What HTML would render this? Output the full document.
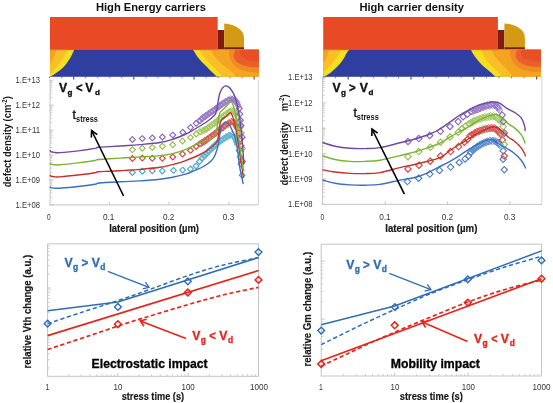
<!DOCTYPE html><html><head><meta charset="utf-8"><style>html,body{margin:0;padding:0;background:#fff;}svg{display:block;} text{font-family:"Liberation Sans", Arial, sans-serif;}</style></head><body>
<svg width="553" height="403" viewBox="0 0 553 403">
<rect width="553" height="403" fill="#fff"/>
<rect x="50" y="17.0" width="167.7" height="32.8" fill="#E84A26"/>
<rect x="217.7" y="30" width="6.5" height="19.799999999999997" fill="#7E1A0E"/>
<path d="M224.2,23.4 C234.2,24 244,29 244,38 L244,47.4 L224.2,47.4 Z" fill="#D49A14"/>
<rect x="224.2" y="47.2" width="19.80000000000001" height="2.5999999999999943" fill="#7E1A0E"/>
<rect x="50" y="49.8" width="208.8" height="27.0" fill="#2E3FA0"/>
<path d="M50,49.8 L74.2,49.8  C73.80,50.65 72.73,53.12 71.80,54.90 C70.87,56.68 69.92,58.52 68.60,60.50 C67.28,62.48 65.62,64.95 63.90,66.80 C62.18,68.65 60.15,70.20 58.30,71.60 C56.45,73.00 54.15,74.37 52.80,75.20 C51.45,76.03 50.63,76.37 50.20,76.60 L50,76.6 Z" fill="#F6DF1E"/>
<path d="M50,49.8 L67.4,49.8  C66.82,51.05 65.15,55.12 63.90,57.30 C62.65,59.48 61.37,61.05 59.90,62.90 C58.43,64.75 56.55,66.68 55.10,68.40 C53.65,70.12 52.05,72.27 51.20,73.20 C50.35,74.13 50.20,73.87 50.00,74.00 L50,74 Z" fill="#F8C026"/>
<path d="M50,49.8 L56.3,49.8  C55.97,50.92 55.10,54.55 54.30,56.50 C53.50,58.45 52.22,60.33 51.50,61.50 C50.78,62.67 50.25,63.17 50.00,63.50 L50,63.5 Z" fill="#F5A421"/>
<path d="M192.80,49.80 C193.13,50.25 194.05,51.37 194.80,52.50 C195.55,53.63 196.20,55.10 197.30,56.60 C198.40,58.10 200.03,60.00 201.40,61.50 C202.77,63.00 204.15,64.23 205.50,65.60 C206.85,66.97 208.15,68.40 209.50,69.70 C210.85,71.00 212.35,72.22 213.60,73.40 C214.85,74.58 216.43,76.23 217.00,76.80 L258.8,76.8 L258.8,49.8 Z" fill="#F6DF1E"/>
<path d="M199.30,49.80 C199.65,50.40 200.52,51.98 201.40,53.40 C202.28,54.82 203.25,56.67 204.60,58.30 C205.95,59.93 207.72,61.43 209.50,63.20 C211.28,64.97 213.52,67.13 215.30,68.90 C217.08,70.67 218.78,72.48 220.20,73.80 C221.62,75.12 223.20,76.30 223.80,76.80 L258.8,76.8 L258.8,49.8 Z" fill="#F8C026"/>
<path d="M211.20,49.80 C211.47,50.40 211.98,51.98 212.80,53.40 C213.62,54.82 214.73,56.67 216.10,58.30 C217.47,59.93 219.23,61.57 221.00,63.20 C222.77,64.83 224.87,66.63 226.70,68.10 C228.53,69.57 230.45,70.55 232.00,72.00 C233.55,73.45 235.33,76.00 236.00,76.80 L258.8,76.8 L258.8,49.8 Z" fill="#F5A421"/>
<path d="M229.40,49.80 C229.42,51.00 228.65,54.38 229.50,57.00 C230.35,59.62 231.92,63.17 234.50,65.50 C237.08,67.83 240.95,69.75 245.00,71.00 C249.05,72.25 256.50,72.67 258.80,73.00 L258.8,49.8 Z" fill="#F08A26"/>
<path d="M235.40,49.80 C235.12,50.95 233.27,54.53 233.70,56.70 C234.13,58.87 235.83,61.22 238.00,62.80 C240.17,64.38 243.23,65.37 246.70,66.20 C250.17,67.03 256.78,67.53 258.80,67.80 L258.8,49.8 Z" fill="#EA5E2A"/>
<path d="M240.50,49.80 C240.42,50.50 239.33,52.55 240.00,54.00 C240.67,55.45 242.67,57.37 244.50,58.50 C246.33,59.63 248.62,60.30 251.00,60.80 C253.38,61.30 257.50,61.38 258.80,61.50 L258.8,49.8 Z" fill="#E84E28"/>
<line x1="50" y1="49.8" x2="217.7" y2="49.8" stroke="#9a2a18" stroke-width="0.6" opacity="0.6"/>
<rect x="323.2" y="17.0" width="174.7" height="32.8" fill="#E84A26"/>
<rect x="497.9" y="30" width="6.5" height="19.799999999999997" fill="#7E1A0E"/>
<path d="M504.4,23.4 C514.4,24 524.9,29 524.9,38 L524.9,47.4 L504.4,47.4 Z" fill="#D49A14"/>
<rect x="504.4" y="47.2" width="20.5" height="2.5999999999999943" fill="#7E1A0E"/>
<rect x="323.2" y="49.8" width="217.59999999999997" height="27.0" fill="#2E3FA0"/>
<path d="M323.2,49.8 L349.2,49.8  C348.73,50.40 347.27,52.02 346.40,53.40 C345.53,54.78 345.07,56.38 344.00,58.10 C342.93,59.82 341.58,61.85 340.00,63.70 C338.42,65.55 336.35,67.48 334.50,69.20 C332.65,70.92 330.62,72.80 328.90,74.00 C327.18,75.20 325.15,75.93 324.20,76.40 C323.25,76.87 323.37,76.73 323.20,76.80 L323.2,76.8 Z" fill="#F6DF1E"/>
<path d="M323.2,49.8 L340.9,49.8  C340.50,50.67 339.57,53.22 338.50,55.00 C337.43,56.78 335.97,58.65 334.50,60.50 C333.03,62.35 331.28,64.38 329.70,66.10 C328.12,67.82 326.08,69.82 325.00,70.80 C323.92,71.78 323.50,71.80 323.20,72.00 L323.2,72 Z" fill="#F8C026"/>
<path d="M323.2,49.8 L329,49.8  C328.73,50.78 328.00,53.92 327.40,55.70 C326.80,57.48 326.10,59.28 325.40,60.50 C324.70,61.72 323.57,62.58 323.20,63.00 L323.2,63 Z" fill="#F5A421"/>
<path d="M470.80,49.80 C471.25,50.58 472.50,52.97 473.50,54.50 C474.50,56.03 475.47,57.33 476.80,59.00 C478.13,60.67 479.80,62.78 481.50,64.50 C483.20,66.22 485.33,67.88 487.00,69.30 C488.67,70.72 490.10,71.75 491.50,73.00 C492.90,74.25 494.75,76.17 495.40,76.80 L540.8,76.8 L540.8,49.8 Z" fill="#F6DF1E"/>
<path d="M480.90,49.80 C481.33,50.67 482.48,53.12 483.50,55.00 C484.52,56.88 485.58,59.18 487.00,61.10 C488.42,63.02 490.30,64.80 492.00,66.50 C493.70,68.20 495.62,69.58 497.20,71.30 C498.78,73.02 500.78,75.88 501.50,76.80 L540.8,76.8 L540.8,49.8 Z" fill="#F8C026"/>
<path d="M491.40,49.80 C491.75,50.50 492.48,52.38 493.50,54.00 C494.52,55.62 495.92,57.58 497.50,59.50 C499.08,61.42 501.17,63.58 503.00,65.50 C504.83,67.42 506.83,69.12 508.50,71.00 C510.17,72.88 512.25,75.83 513.00,76.80 L540.8,76.8 L540.8,49.8 Z" fill="#F5A421"/>
<path d="M510.00,49.80 C510.08,51.00 509.58,54.43 510.50,57.00 C511.42,59.57 513.32,63.08 515.50,65.20 C517.68,67.32 520.73,68.62 523.60,69.70 C526.47,70.78 529.83,71.32 532.70,71.70 C535.57,72.08 539.45,71.95 540.80,72.00 L540.8,49.8 Z" fill="#F08A26"/>
<path d="M517.30,49.80 C517.00,50.70 515.35,53.38 515.50,55.20 C515.65,57.02 516.70,59.12 518.20,60.70 C519.70,62.28 522.08,63.73 524.50,64.70 C526.92,65.67 529.98,66.08 532.70,66.50 C535.42,66.92 539.45,67.08 540.80,67.20 L540.8,49.8 Z" fill="#EA5E2A"/>
<path d="M522.00,49.80 C521.83,50.50 520.50,52.55 521.00,54.00 C521.50,55.45 523.17,57.33 525.00,58.50 C526.83,59.67 529.37,60.50 532.00,61.00 C534.63,61.50 539.33,61.42 540.80,61.50 L540.8,49.8 Z" fill="#E84E28"/>
<line x1="323.2" y1="49.8" x2="497.9" y2="49.8" stroke="#9a2a18" stroke-width="0.6" opacity="0.6"/>
<line x1="49.6" y1="76.6" x2="49.6" y2="78.2" stroke="#555" stroke-width="0.8"/>
<line x1="61.7" y1="76.6" x2="61.7" y2="78.2" stroke="#555" stroke-width="0.8"/>
<line x1="73.7" y1="76.6" x2="73.7" y2="79.5" stroke="#555" stroke-width="1.2"/>
<line x1="85.7" y1="76.6" x2="85.7" y2="78.2" stroke="#555" stroke-width="0.8"/>
<line x1="97.8" y1="76.6" x2="97.8" y2="78.2" stroke="#555" stroke-width="0.8"/>
<line x1="109.8" y1="76.6" x2="109.8" y2="78.2" stroke="#555" stroke-width="0.8"/>
<line x1="121.8" y1="76.6" x2="121.8" y2="78.2" stroke="#555" stroke-width="0.8"/>
<line x1="133.8" y1="76.6" x2="133.8" y2="79.5" stroke="#555" stroke-width="1.2"/>
<line x1="145.9" y1="76.6" x2="145.9" y2="78.2" stroke="#555" stroke-width="0.8"/>
<line x1="157.9" y1="76.6" x2="157.9" y2="78.2" stroke="#555" stroke-width="0.8"/>
<line x1="169.9" y1="76.6" x2="169.9" y2="78.2" stroke="#555" stroke-width="0.8"/>
<line x1="182.0" y1="76.6" x2="182.0" y2="78.2" stroke="#555" stroke-width="0.8"/>
<line x1="194.0" y1="76.6" x2="194.0" y2="79.5" stroke="#555" stroke-width="1.2"/>
<line x1="206.0" y1="76.6" x2="206.0" y2="78.2" stroke="#555" stroke-width="0.8"/>
<line x1="218.1" y1="76.6" x2="218.1" y2="78.2" stroke="#555" stroke-width="0.8"/>
<line x1="230.1" y1="76.6" x2="230.1" y2="78.2" stroke="#555" stroke-width="0.8"/>
<line x1="242.1" y1="76.6" x2="242.1" y2="78.2" stroke="#555" stroke-width="0.8"/>
<line x1="254.1" y1="76.6" x2="254.1" y2="79.5" stroke="#555" stroke-width="1.2"/>
<line x1="323.1" y1="76.6" x2="323.1" y2="78.2" stroke="#555" stroke-width="0.8"/>
<line x1="335.6" y1="76.6" x2="335.6" y2="78.2" stroke="#555" stroke-width="0.8"/>
<line x1="348.2" y1="76.6" x2="348.2" y2="79.5" stroke="#555" stroke-width="1.2"/>
<line x1="360.8" y1="76.6" x2="360.8" y2="78.2" stroke="#555" stroke-width="0.8"/>
<line x1="373.3" y1="76.6" x2="373.3" y2="78.2" stroke="#555" stroke-width="0.8"/>
<line x1="385.9" y1="76.6" x2="385.9" y2="78.2" stroke="#555" stroke-width="0.8"/>
<line x1="398.4" y1="76.6" x2="398.4" y2="78.2" stroke="#555" stroke-width="0.8"/>
<line x1="411.0" y1="76.6" x2="411.0" y2="79.5" stroke="#555" stroke-width="1.2"/>
<line x1="423.6" y1="76.6" x2="423.6" y2="78.2" stroke="#555" stroke-width="0.8"/>
<line x1="436.1" y1="76.6" x2="436.1" y2="78.2" stroke="#555" stroke-width="0.8"/>
<line x1="448.7" y1="76.6" x2="448.7" y2="78.2" stroke="#555" stroke-width="0.8"/>
<line x1="461.2" y1="76.6" x2="461.2" y2="78.2" stroke="#555" stroke-width="0.8"/>
<line x1="473.8" y1="76.6" x2="473.8" y2="79.5" stroke="#555" stroke-width="1.2"/>
<line x1="486.4" y1="76.6" x2="486.4" y2="78.2" stroke="#555" stroke-width="0.8"/>
<line x1="498.9" y1="76.6" x2="498.9" y2="78.2" stroke="#555" stroke-width="0.8"/>
<line x1="511.5" y1="76.6" x2="511.5" y2="78.2" stroke="#555" stroke-width="0.8"/>
<line x1="524.0" y1="76.6" x2="524.0" y2="78.2" stroke="#555" stroke-width="0.8"/>
<line x1="536.6" y1="76.6" x2="536.6" y2="79.5" stroke="#555" stroke-width="1.2"/>
<text x="95.9" y="11.0" font-size="11.5" font-weight="bold" fill="#111" text-anchor="start" textLength="110" lengthAdjust="spacingAndGlyphs" >High Energy carriers</text>
<text x="359.4" y="11.0" font-size="11.5" font-weight="bold" fill="#111" text-anchor="start" textLength="104.6" lengthAdjust="spacingAndGlyphs" >High carrier density</text>
<line x1="50.1" y1="80.2" x2="50.1" y2="204.9" stroke="#C4C4C4" stroke-width="1"/>
<line x1="50.1" y1="204.9" x2="258.4" y2="204.9" stroke="#C4C4C4" stroke-width="1"/>
<line x1="258.4" y1="80.2" x2="258.4" y2="204.9" stroke="#D4D4D4" stroke-width="1"/>
<line x1="50.1" y1="197.39" x2="52.300000000000004" y2="197.39" stroke="#C4C4C4" stroke-width="0.8"/>
<line x1="50.1" y1="193.00" x2="52.300000000000004" y2="193.00" stroke="#C4C4C4" stroke-width="0.8"/>
<line x1="50.1" y1="189.88" x2="52.300000000000004" y2="189.88" stroke="#C4C4C4" stroke-width="0.8"/>
<line x1="50.1" y1="187.47" x2="52.300000000000004" y2="187.47" stroke="#C4C4C4" stroke-width="0.8"/>
<line x1="50.1" y1="185.49" x2="52.300000000000004" y2="185.49" stroke="#C4C4C4" stroke-width="0.8"/>
<line x1="50.1" y1="183.82" x2="52.300000000000004" y2="183.82" stroke="#C4C4C4" stroke-width="0.8"/>
<line x1="50.1" y1="182.38" x2="52.300000000000004" y2="182.38" stroke="#C4C4C4" stroke-width="0.8"/>
<line x1="50.1" y1="181.10" x2="52.300000000000004" y2="181.10" stroke="#C4C4C4" stroke-width="0.8"/>
<line x1="50.1" y1="172.45" x2="52.300000000000004" y2="172.45" stroke="#C4C4C4" stroke-width="0.8"/>
<line x1="50.1" y1="168.06" x2="52.300000000000004" y2="168.06" stroke="#C4C4C4" stroke-width="0.8"/>
<line x1="50.1" y1="164.94" x2="52.300000000000004" y2="164.94" stroke="#C4C4C4" stroke-width="0.8"/>
<line x1="50.1" y1="162.53" x2="52.300000000000004" y2="162.53" stroke="#C4C4C4" stroke-width="0.8"/>
<line x1="50.1" y1="160.55" x2="52.300000000000004" y2="160.55" stroke="#C4C4C4" stroke-width="0.8"/>
<line x1="50.1" y1="158.88" x2="52.300000000000004" y2="158.88" stroke="#C4C4C4" stroke-width="0.8"/>
<line x1="50.1" y1="157.44" x2="52.300000000000004" y2="157.44" stroke="#C4C4C4" stroke-width="0.8"/>
<line x1="50.1" y1="156.16" x2="52.300000000000004" y2="156.16" stroke="#C4C4C4" stroke-width="0.8"/>
<line x1="50.1" y1="147.51" x2="52.300000000000004" y2="147.51" stroke="#C4C4C4" stroke-width="0.8"/>
<line x1="50.1" y1="143.12" x2="52.300000000000004" y2="143.12" stroke="#C4C4C4" stroke-width="0.8"/>
<line x1="50.1" y1="140.00" x2="52.300000000000004" y2="140.00" stroke="#C4C4C4" stroke-width="0.8"/>
<line x1="50.1" y1="137.59" x2="52.300000000000004" y2="137.59" stroke="#C4C4C4" stroke-width="0.8"/>
<line x1="50.1" y1="135.61" x2="52.300000000000004" y2="135.61" stroke="#C4C4C4" stroke-width="0.8"/>
<line x1="50.1" y1="133.94" x2="52.300000000000004" y2="133.94" stroke="#C4C4C4" stroke-width="0.8"/>
<line x1="50.1" y1="132.50" x2="52.300000000000004" y2="132.50" stroke="#C4C4C4" stroke-width="0.8"/>
<line x1="50.1" y1="131.22" x2="52.300000000000004" y2="131.22" stroke="#C4C4C4" stroke-width="0.8"/>
<line x1="50.1" y1="122.57" x2="52.300000000000004" y2="122.57" stroke="#C4C4C4" stroke-width="0.8"/>
<line x1="50.1" y1="118.18" x2="52.300000000000004" y2="118.18" stroke="#C4C4C4" stroke-width="0.8"/>
<line x1="50.1" y1="115.06" x2="52.300000000000004" y2="115.06" stroke="#C4C4C4" stroke-width="0.8"/>
<line x1="50.1" y1="112.65" x2="52.300000000000004" y2="112.65" stroke="#C4C4C4" stroke-width="0.8"/>
<line x1="50.1" y1="110.67" x2="52.300000000000004" y2="110.67" stroke="#C4C4C4" stroke-width="0.8"/>
<line x1="50.1" y1="109.00" x2="52.300000000000004" y2="109.00" stroke="#C4C4C4" stroke-width="0.8"/>
<line x1="50.1" y1="107.56" x2="52.300000000000004" y2="107.56" stroke="#C4C4C4" stroke-width="0.8"/>
<line x1="50.1" y1="106.28" x2="52.300000000000004" y2="106.28" stroke="#C4C4C4" stroke-width="0.8"/>
<line x1="50.1" y1="97.63" x2="52.300000000000004" y2="97.63" stroke="#C4C4C4" stroke-width="0.8"/>
<line x1="50.1" y1="93.24" x2="52.300000000000004" y2="93.24" stroke="#C4C4C4" stroke-width="0.8"/>
<line x1="50.1" y1="90.12" x2="52.300000000000004" y2="90.12" stroke="#C4C4C4" stroke-width="0.8"/>
<line x1="50.1" y1="87.71" x2="52.300000000000004" y2="87.71" stroke="#C4C4C4" stroke-width="0.8"/>
<line x1="50.1" y1="85.73" x2="52.300000000000004" y2="85.73" stroke="#C4C4C4" stroke-width="0.8"/>
<line x1="50.1" y1="84.06" x2="52.300000000000004" y2="84.06" stroke="#C4C4C4" stroke-width="0.8"/>
<line x1="50.1" y1="82.62" x2="52.300000000000004" y2="82.62" stroke="#C4C4C4" stroke-width="0.8"/>
<line x1="50.1" y1="81.34" x2="52.300000000000004" y2="81.34" stroke="#C4C4C4" stroke-width="0.8"/>
<line x1="49.1" y1="204.90" x2="53.6" y2="204.90" stroke="#C4C4C4" stroke-width="1"/>
<line x1="49.1" y1="179.96" x2="53.6" y2="179.96" stroke="#C4C4C4" stroke-width="1"/>
<line x1="49.1" y1="155.02" x2="53.6" y2="155.02" stroke="#C4C4C4" stroke-width="1"/>
<line x1="49.1" y1="130.08" x2="53.6" y2="130.08" stroke="#C4C4C4" stroke-width="1"/>
<line x1="49.1" y1="105.14" x2="53.6" y2="105.14" stroke="#C4C4C4" stroke-width="1"/>
<line x1="49.1" y1="80.20" x2="53.6" y2="80.20" stroke="#C4C4C4" stroke-width="1"/>
<line x1="109.3" y1="204.9" x2="109.3" y2="201.9" stroke="#C4C4C4" stroke-width="1"/>
<line x1="168.9" y1="204.9" x2="168.9" y2="201.9" stroke="#C4C4C4" stroke-width="1"/>
<line x1="229.0" y1="204.9" x2="229.0" y2="201.9" stroke="#C4C4C4" stroke-width="1"/>
<text x="40.0" y="82.9" font-size="9.2" font-weight="normal" fill="#333" text-anchor="end" textLength="24.4" lengthAdjust="spacingAndGlyphs" >1.E+13</text>
<text x="40.0" y="107.9" font-size="9.2" font-weight="normal" fill="#333" text-anchor="end" textLength="24.4" lengthAdjust="spacingAndGlyphs" >1.E+12</text>
<text x="40.0" y="133.2" font-size="9.2" font-weight="normal" fill="#333" text-anchor="end" textLength="24.4" lengthAdjust="spacingAndGlyphs" >1.E+11</text>
<text x="40.0" y="157.9" font-size="9.2" font-weight="normal" fill="#333" text-anchor="end" textLength="24.4" lengthAdjust="spacingAndGlyphs" >1.E+10</text>
<text x="40.0" y="182.7" font-size="9.2" font-weight="normal" fill="#333" text-anchor="end" textLength="24.4" lengthAdjust="spacingAndGlyphs" >1.E+09</text>
<text x="40.0" y="208.1" font-size="9.2" font-weight="normal" fill="#333" text-anchor="end" textLength="24.4" lengthAdjust="spacingAndGlyphs" >1.E+08</text>
<text x="48.9" y="219.9" font-size="8.6" font-weight="normal" fill="#333" text-anchor="middle" textLength="3.6" lengthAdjust="spacingAndGlyphs" >0</text>
<text x="108.7" y="219.9" font-size="8.6" font-weight="normal" fill="#333" text-anchor="middle" textLength="11.5" lengthAdjust="spacingAndGlyphs" >0.1</text>
<text x="168.7" y="219.9" font-size="8.6" font-weight="normal" fill="#333" text-anchor="middle" textLength="11.5" lengthAdjust="spacingAndGlyphs" >0.2</text>
<text x="228.6" y="219.9" font-size="8.6" font-weight="normal" fill="#333" text-anchor="middle" textLength="11.5" lengthAdjust="spacingAndGlyphs" >0.3</text>
<text x="109.2" y="232.2" font-size="10.2" font-weight="bold" fill="#1a1a1a" text-anchor="start" textLength="89.8" lengthAdjust="spacingAndGlyphs" stroke="#1a1a1a" stroke-width="0.2">lateral position (µm)</text>
<text transform="translate(10.6,187.2) rotate(-90)" font-size="10.2" font-weight="bold" fill="#1a1a1a" textLength="91" lengthAdjust="spacingAndGlyphs">defect density (cm<tspan font-size="6.5" dy="-4">-2</tspan><tspan dy="4">)</tspan></text>
<line x1="322.6" y1="77.5" x2="322.6" y2="204.4" stroke="#C4C4C4" stroke-width="1"/>
<line x1="322.6" y1="204.4" x2="541.8" y2="204.4" stroke="#C4C4C4" stroke-width="1"/>
<line x1="541.8" y1="77.5" x2="541.8" y2="204.4" stroke="#D4D4D4" stroke-width="1"/>
<line x1="322.6" y1="196.76" x2="324.8" y2="196.76" stroke="#C4C4C4" stroke-width="0.8"/>
<line x1="322.6" y1="192.29" x2="324.8" y2="192.29" stroke="#C4C4C4" stroke-width="0.8"/>
<line x1="322.6" y1="189.12" x2="324.8" y2="189.12" stroke="#C4C4C4" stroke-width="0.8"/>
<line x1="322.6" y1="186.66" x2="324.8" y2="186.66" stroke="#C4C4C4" stroke-width="0.8"/>
<line x1="322.6" y1="184.65" x2="324.8" y2="184.65" stroke="#C4C4C4" stroke-width="0.8"/>
<line x1="322.6" y1="182.95" x2="324.8" y2="182.95" stroke="#C4C4C4" stroke-width="0.8"/>
<line x1="322.6" y1="181.48" x2="324.8" y2="181.48" stroke="#C4C4C4" stroke-width="0.8"/>
<line x1="322.6" y1="180.18" x2="324.8" y2="180.18" stroke="#C4C4C4" stroke-width="0.8"/>
<line x1="322.6" y1="171.38" x2="324.8" y2="171.38" stroke="#C4C4C4" stroke-width="0.8"/>
<line x1="322.6" y1="166.91" x2="324.8" y2="166.91" stroke="#C4C4C4" stroke-width="0.8"/>
<line x1="322.6" y1="163.74" x2="324.8" y2="163.74" stroke="#C4C4C4" stroke-width="0.8"/>
<line x1="322.6" y1="161.28" x2="324.8" y2="161.28" stroke="#C4C4C4" stroke-width="0.8"/>
<line x1="322.6" y1="159.27" x2="324.8" y2="159.27" stroke="#C4C4C4" stroke-width="0.8"/>
<line x1="322.6" y1="157.57" x2="324.8" y2="157.57" stroke="#C4C4C4" stroke-width="0.8"/>
<line x1="322.6" y1="156.10" x2="324.8" y2="156.10" stroke="#C4C4C4" stroke-width="0.8"/>
<line x1="322.6" y1="154.80" x2="324.8" y2="154.80" stroke="#C4C4C4" stroke-width="0.8"/>
<line x1="322.6" y1="146.00" x2="324.8" y2="146.00" stroke="#C4C4C4" stroke-width="0.8"/>
<line x1="322.6" y1="141.53" x2="324.8" y2="141.53" stroke="#C4C4C4" stroke-width="0.8"/>
<line x1="322.6" y1="138.36" x2="324.8" y2="138.36" stroke="#C4C4C4" stroke-width="0.8"/>
<line x1="322.6" y1="135.90" x2="324.8" y2="135.90" stroke="#C4C4C4" stroke-width="0.8"/>
<line x1="322.6" y1="133.89" x2="324.8" y2="133.89" stroke="#C4C4C4" stroke-width="0.8"/>
<line x1="322.6" y1="132.19" x2="324.8" y2="132.19" stroke="#C4C4C4" stroke-width="0.8"/>
<line x1="322.6" y1="130.72" x2="324.8" y2="130.72" stroke="#C4C4C4" stroke-width="0.8"/>
<line x1="322.6" y1="129.42" x2="324.8" y2="129.42" stroke="#C4C4C4" stroke-width="0.8"/>
<line x1="322.6" y1="120.62" x2="324.8" y2="120.62" stroke="#C4C4C4" stroke-width="0.8"/>
<line x1="322.6" y1="116.15" x2="324.8" y2="116.15" stroke="#C4C4C4" stroke-width="0.8"/>
<line x1="322.6" y1="112.98" x2="324.8" y2="112.98" stroke="#C4C4C4" stroke-width="0.8"/>
<line x1="322.6" y1="110.52" x2="324.8" y2="110.52" stroke="#C4C4C4" stroke-width="0.8"/>
<line x1="322.6" y1="108.51" x2="324.8" y2="108.51" stroke="#C4C4C4" stroke-width="0.8"/>
<line x1="322.6" y1="106.81" x2="324.8" y2="106.81" stroke="#C4C4C4" stroke-width="0.8"/>
<line x1="322.6" y1="105.34" x2="324.8" y2="105.34" stroke="#C4C4C4" stroke-width="0.8"/>
<line x1="322.6" y1="104.04" x2="324.8" y2="104.04" stroke="#C4C4C4" stroke-width="0.8"/>
<line x1="322.6" y1="95.24" x2="324.8" y2="95.24" stroke="#C4C4C4" stroke-width="0.8"/>
<line x1="322.6" y1="90.77" x2="324.8" y2="90.77" stroke="#C4C4C4" stroke-width="0.8"/>
<line x1="322.6" y1="87.60" x2="324.8" y2="87.60" stroke="#C4C4C4" stroke-width="0.8"/>
<line x1="322.6" y1="85.14" x2="324.8" y2="85.14" stroke="#C4C4C4" stroke-width="0.8"/>
<line x1="322.6" y1="83.13" x2="324.8" y2="83.13" stroke="#C4C4C4" stroke-width="0.8"/>
<line x1="322.6" y1="81.43" x2="324.8" y2="81.43" stroke="#C4C4C4" stroke-width="0.8"/>
<line x1="322.6" y1="79.96" x2="324.8" y2="79.96" stroke="#C4C4C4" stroke-width="0.8"/>
<line x1="322.6" y1="78.66" x2="324.8" y2="78.66" stroke="#C4C4C4" stroke-width="0.8"/>
<line x1="321.6" y1="204.40" x2="326.1" y2="204.40" stroke="#C4C4C4" stroke-width="1"/>
<line x1="321.6" y1="179.02" x2="326.1" y2="179.02" stroke="#C4C4C4" stroke-width="1"/>
<line x1="321.6" y1="153.64" x2="326.1" y2="153.64" stroke="#C4C4C4" stroke-width="1"/>
<line x1="321.6" y1="128.26" x2="326.1" y2="128.26" stroke="#C4C4C4" stroke-width="1"/>
<line x1="321.6" y1="102.88" x2="326.1" y2="102.88" stroke="#C4C4C4" stroke-width="1"/>
<line x1="321.6" y1="77.50" x2="326.1" y2="77.50" stroke="#C4C4C4" stroke-width="1"/>
<line x1="385.3" y1="204.4" x2="385.3" y2="201.4" stroke="#C4C4C4" stroke-width="1"/>
<line x1="447.6" y1="204.4" x2="447.6" y2="201.4" stroke="#C4C4C4" stroke-width="1"/>
<line x1="509.9" y1="204.4" x2="509.9" y2="201.4" stroke="#C4C4C4" stroke-width="1"/>
<text x="312.5" y="80.3" font-size="9.2" font-weight="normal" fill="#333" text-anchor="end" textLength="24.4" lengthAdjust="spacingAndGlyphs" >1.E+13</text>
<text x="312.5" y="105.9" font-size="9.2" font-weight="normal" fill="#333" text-anchor="end" textLength="24.4" lengthAdjust="spacingAndGlyphs" >1.E+12</text>
<text x="312.5" y="131.5" font-size="9.2" font-weight="normal" fill="#333" text-anchor="end" textLength="24.4" lengthAdjust="spacingAndGlyphs" >1.E+11</text>
<text x="312.5" y="156.9" font-size="9.2" font-weight="normal" fill="#333" text-anchor="end" textLength="24.4" lengthAdjust="spacingAndGlyphs" >1.E+10</text>
<text x="312.5" y="181.7" font-size="9.2" font-weight="normal" fill="#333" text-anchor="end" textLength="24.4" lengthAdjust="spacingAndGlyphs" >1.E+09</text>
<text x="312.5" y="206.9" font-size="9.2" font-weight="normal" fill="#333" text-anchor="end" textLength="24.4" lengthAdjust="spacingAndGlyphs" >1.E+08</text>
<text x="322.4" y="219.8" font-size="8.6" font-weight="normal" fill="#333" text-anchor="middle" textLength="3.6" lengthAdjust="spacingAndGlyphs" >0</text>
<text x="384.9" y="219.8" font-size="8.6" font-weight="normal" fill="#333" text-anchor="middle" textLength="11.5" lengthAdjust="spacingAndGlyphs" >0.1</text>
<text x="447.4" y="219.8" font-size="8.6" font-weight="normal" fill="#333" text-anchor="middle" textLength="11.5" lengthAdjust="spacingAndGlyphs" >0.2</text>
<text x="509.7" y="219.8" font-size="8.6" font-weight="normal" fill="#333" text-anchor="middle" textLength="11.5" lengthAdjust="spacingAndGlyphs" >0.3</text>
<text transform="translate(288.0,185.4) rotate(-90)" font-size="10.2" font-weight="bold" fill="#1a1a1a" textLength="91" lengthAdjust="spacingAndGlyphs">defect density (cm<tspan font-size="6.5" dy="-4">-2</tspan><tspan dy="4">)</tspan></text>
<rect x="279" y="111.6" width="11" height="8.8" fill="#fff"/>
<text x="385.3" y="232.2" font-size="10.2" font-weight="bold" fill="#1a1a1a" text-anchor="start" textLength="92.1" lengthAdjust="spacingAndGlyphs" stroke="#1a1a1a" stroke-width="0.2">lateral position (µm)</text>
<path d="M201.50,155.20 L204.30,158.00 L201.50,160.80 L198.70,158.00 Z" fill="none" stroke="#5DB3D0" stroke-width="0.95"/>
<path d="M202.19,155.28 L204.99,158.08 L202.19,160.88 L199.39,158.08 Z" fill="none" stroke="#5DB3D0" stroke-width="0.95"/>
<path d="M202.89,155.36 L205.69,158.16 L202.89,160.96 L200.09,158.16 Z" fill="none" stroke="#5DB3D0" stroke-width="0.95"/>
<path d="M203.58,153.04 L206.38,155.84 L203.58,158.64 L200.78,155.84 Z" fill="none" stroke="#5DB3D0" stroke-width="0.95"/>
<path d="M204.27,153.12 L207.07,155.92 L204.27,158.72 L201.47,155.92 Z" fill="none" stroke="#5DB3D0" stroke-width="0.95"/>
<path d="M204.97,153.20 L207.77,156.00 L204.97,158.80 L202.17,156.00 Z" fill="none" stroke="#5DB3D0" stroke-width="0.95"/>
<path d="M205.66,150.88 L208.46,153.68 L205.66,156.48 L202.86,153.68 Z" fill="none" stroke="#5DB3D0" stroke-width="0.95"/>
<path d="M206.35,150.96 L209.15,153.76 L206.35,156.56 L203.55,153.76 Z" fill="none" stroke="#5DB3D0" stroke-width="0.95"/>
<path d="M207.05,151.03 L209.85,153.83 L207.05,156.63 L204.25,153.83 Z" fill="none" stroke="#5DB3D0" stroke-width="0.95"/>
<path d="M207.74,148.71 L210.54,151.51 L207.74,154.31 L204.94,151.51 Z" fill="none" stroke="#5DB3D0" stroke-width="0.95"/>
<path d="M208.43,148.79 L211.23,151.59 L208.43,154.39 L205.63,151.59 Z" fill="none" stroke="#5DB3D0" stroke-width="0.95"/>
<path d="M209.13,148.87 L211.93,151.67 L209.13,154.47 L206.33,151.67 Z" fill="none" stroke="#5DB3D0" stroke-width="0.95"/>
<path d="M209.85,146.58 L212.65,149.38 L209.85,152.18 L207.05,149.38 Z" fill="none" stroke="#5DB3D0" stroke-width="0.95"/>
<path d="M210.57,146.69 L213.37,149.49 L210.57,152.29 L207.77,149.49 Z" fill="none" stroke="#5DB3D0" stroke-width="0.95"/>
<path d="M211.29,146.79 L214.09,149.59 L211.29,152.39 L208.49,149.59 Z" fill="none" stroke="#5DB3D0" stroke-width="0.95"/>
<path d="M212.01,144.50 L214.81,147.30 L212.01,150.10 L209.21,147.30 Z" fill="none" stroke="#5DB3D0" stroke-width="0.95"/>
<path d="M212.73,144.60 L215.53,147.40 L212.73,150.20 L209.93,147.40 Z" fill="none" stroke="#5DB3D0" stroke-width="0.95"/>
<path d="M213.45,144.71 L216.25,147.51 L213.45,150.31 L210.65,147.51 Z" fill="none" stroke="#5DB3D0" stroke-width="0.95"/>
<path d="M214.17,142.42 L216.97,145.22 L214.17,148.02 L211.37,145.22 Z" fill="none" stroke="#5DB3D0" stroke-width="0.95"/>
<path d="M214.89,142.52 L217.69,145.32 L214.89,148.12 L212.09,145.32 Z" fill="none" stroke="#5DB3D0" stroke-width="0.95"/>
<path d="M215.61,142.63 L218.41,145.43 L215.61,148.23 L212.81,145.43 Z" fill="none" stroke="#5DB3D0" stroke-width="0.95"/>
<path d="M216.33,140.34 L219.13,143.14 L216.33,145.94 L213.53,143.14 Z" fill="none" stroke="#5DB3D0" stroke-width="0.95"/>
<path d="M217.05,140.44 L219.85,143.24 L217.05,146.04 L214.25,143.24 Z" fill="none" stroke="#5DB3D0" stroke-width="0.95"/>
<path d="M217.84,140.64 L220.64,143.44 L217.84,146.24 L215.04,143.44 Z" fill="none" stroke="#5DB3D0" stroke-width="0.95"/>
<path d="M218.67,138.48 L221.47,141.28 L218.67,144.08 L215.87,141.28 Z" fill="none" stroke="#5DB3D0" stroke-width="0.95"/>
<path d="M219.50,138.72 L222.30,141.52 L219.50,144.32 L216.70,141.52 Z" fill="none" stroke="#5DB3D0" stroke-width="0.95"/>
<path d="M220.33,138.97 L223.13,141.77 L220.33,144.57 L217.53,141.77 Z" fill="none" stroke="#5DB3D0" stroke-width="0.95"/>
<path d="M221.16,136.81 L223.96,139.61 L221.16,142.41 L218.36,139.61 Z" fill="none" stroke="#5DB3D0" stroke-width="0.95"/>
<path d="M221.99,137.05 L224.79,139.85 L221.99,142.65 L219.19,139.85 Z" fill="none" stroke="#5DB3D0" stroke-width="0.95"/>
<path d="M222.82,137.29 L225.62,140.09 L222.82,142.89 L220.02,140.09 Z" fill="none" stroke="#5DB3D0" stroke-width="0.95"/>
<path d="M223.65,135.14 L226.45,137.94 L223.65,140.74 L220.85,137.94 Z" fill="none" stroke="#5DB3D0" stroke-width="0.95"/>
<path d="M224.48,135.38 L227.28,138.18 L224.48,140.98 L221.68,138.18 Z" fill="none" stroke="#5DB3D0" stroke-width="0.95"/>
<path d="M225.32,135.62 L228.12,138.42 L225.32,141.22 L222.52,138.42 Z" fill="none" stroke="#5DB3D0" stroke-width="0.95"/>
<path d="M226.19,133.54 L228.99,136.34 L226.19,139.14 L223.39,136.34 Z" fill="none" stroke="#5DB3D0" stroke-width="0.95"/>
<path d="M227.08,133.88 L229.88,136.68 L227.08,139.48 L224.28,136.68 Z" fill="none" stroke="#5DB3D0" stroke-width="0.95"/>
<path d="M227.97,134.22 L230.77,137.02 L227.97,139.82 L225.17,137.02 Z" fill="none" stroke="#5DB3D0" stroke-width="0.95"/>
<path d="M228.85,132.16 L231.65,134.96 L228.85,137.76 L226.05,134.96 Z" fill="none" stroke="#5DB3D0" stroke-width="0.95"/>
<path d="M229.74,132.50 L232.54,135.30 L229.74,138.10 L226.94,135.30 Z" fill="none" stroke="#5DB3D0" stroke-width="0.95"/>
<path d="M230.63,132.84 L233.43,135.64 L230.63,138.44 L227.83,135.64 Z" fill="none" stroke="#5DB3D0" stroke-width="0.95"/>
<path d="M231.54,131.38 L234.34,134.18 L231.54,136.98 L228.74,134.18 Z" fill="none" stroke="#5DB3D0" stroke-width="0.95"/>
<path d="M232.45,132.59 L235.25,135.39 L232.45,138.19 L229.65,135.39 Z" fill="none" stroke="#5DB3D0" stroke-width="0.95"/>
<path d="M233.36,133.79 L236.16,136.59 L233.36,139.39 L230.56,136.59 Z" fill="none" stroke="#5DB3D0" stroke-width="0.95"/>
<path d="M233.95,132.95 L236.75,135.75 L233.95,138.55 L231.15,135.75 Z" fill="none" stroke="#5DB3D0" stroke-width="0.95"/>
<path d="M234.42,134.63 L237.22,137.43 L234.42,140.23 L231.62,137.43 Z" fill="none" stroke="#5DB3D0" stroke-width="0.95"/>
<path d="M234.90,136.31 L237.70,139.11 L234.90,141.91 L232.10,139.11 Z" fill="none" stroke="#5DB3D0" stroke-width="0.95"/>
<path d="M235.37,135.60 L238.17,138.40 L235.37,141.20 L232.57,138.40 Z" fill="none" stroke="#5DB3D0" stroke-width="0.95"/>
<path d="M235.83,137.28 L238.63,140.08 L235.83,142.88 L233.03,140.08 Z" fill="none" stroke="#5DB3D0" stroke-width="0.95"/>
<path d="M236.16,139.03 L238.96,141.83 L236.16,144.63 L233.36,141.83 Z" fill="none" stroke="#5DB3D0" stroke-width="0.95"/>
<path d="M236.48,138.37 L239.28,141.17 L236.48,143.97 L233.68,141.17 Z" fill="none" stroke="#5DB3D0" stroke-width="0.95"/>
<path d="M236.81,140.12 L239.61,142.92 L236.81,145.72 L234.01,142.92 Z" fill="none" stroke="#5DB3D0" stroke-width="0.95"/>
<path d="M237.13,141.86 L239.93,144.66 L237.13,147.46 L234.33,144.66 Z" fill="none" stroke="#5DB3D0" stroke-width="0.95"/>
<path d="M237.46,141.21 L240.26,144.01 L237.46,146.81 L234.66,144.01 Z" fill="none" stroke="#5DB3D0" stroke-width="0.95"/>
<path d="M132.40,169.60 L135.30,172.50 L132.40,175.40 L129.50,172.50 Z" fill="none" stroke="#4CA6C9" stroke-width="1.15"/>
<path d="M142.30,168.30 L145.20,171.20 L142.30,174.10 L139.40,171.20 Z" fill="none" stroke="#4CA6C9" stroke-width="1.15"/>
<path d="M152.30,167.90 L155.20,170.80 L152.30,173.70 L149.40,170.80 Z" fill="none" stroke="#4CA6C9" stroke-width="1.15"/>
<path d="M162.30,168.10 L165.20,171.00 L162.30,173.90 L159.40,171.00 Z" fill="none" stroke="#4CA6C9" stroke-width="1.15"/>
<path d="M173.50,167.50 L176.40,170.40 L173.50,173.30 L170.60,170.40 Z" fill="none" stroke="#4CA6C9" stroke-width="1.15"/>
<path d="M182.70,167.20 L185.60,170.10 L182.70,173.00 L179.80,170.10 Z" fill="none" stroke="#4CA6C9" stroke-width="1.15"/>
<path d="M190.50,166.00 L193.40,168.90 L190.50,171.80 L187.60,168.90 Z" fill="none" stroke="#4CA6C9" stroke-width="1.15"/>
<path d="M196.00,163.10 L198.90,166.00 L196.00,168.90 L193.10,166.00 Z" fill="none" stroke="#4CA6C9" stroke-width="1.15"/>
<path d="M199.50,158.60 L202.40,161.50 L199.50,164.40 L196.60,161.50 Z" fill="none" stroke="#4CA6C9" stroke-width="1.15"/>
<path d="M239.00,147.60 L241.90,150.50 L239.00,153.40 L236.10,150.50 Z" fill="none" stroke="#4CA6C9" stroke-width="1.15"/>
<path d="M240.20,154.10 L243.10,157.00 L240.20,159.90 L237.30,157.00 Z" fill="none" stroke="#4CA6C9" stroke-width="1.15"/>
<path d="M241.00,161.10 L243.90,164.00 L241.00,166.90 L238.10,164.00 Z" fill="none" stroke="#4CA6C9" stroke-width="1.15"/>
<path d="M242.10,172.40 L245.00,175.30 L242.10,178.20 L239.20,175.30 Z" fill="none" stroke="#4CA6C9" stroke-width="1.15"/>
<path d="M199.50,140.70 L202.30,143.50 L199.50,146.30 L196.70,143.50 Z" fill="none" stroke="#D85550" stroke-width="0.95"/>
<path d="M200.35,140.97 L203.15,143.77 L200.35,146.57 L197.55,143.77 Z" fill="none" stroke="#D85550" stroke-width="0.95"/>
<path d="M201.20,141.24 L204.00,144.04 L201.20,146.84 L198.40,144.04 Z" fill="none" stroke="#D85550" stroke-width="0.95"/>
<path d="M202.05,139.11 L204.85,141.91 L202.05,144.71 L199.25,141.91 Z" fill="none" stroke="#D85550" stroke-width="0.95"/>
<path d="M202.89,139.38 L205.69,142.18 L202.89,144.98 L200.09,142.18 Z" fill="none" stroke="#D85550" stroke-width="0.95"/>
<path d="M203.74,139.66 L206.54,142.46 L203.74,145.26 L200.94,142.46 Z" fill="none" stroke="#D85550" stroke-width="0.95"/>
<path d="M204.59,137.53 L207.39,140.33 L204.59,143.13 L201.79,140.33 Z" fill="none" stroke="#D85550" stroke-width="0.95"/>
<path d="M205.44,137.80 L208.24,140.60 L205.44,143.40 L202.64,140.60 Z" fill="none" stroke="#D85550" stroke-width="0.95"/>
<path d="M206.29,138.07 L209.09,140.87 L206.29,143.67 L203.49,140.87 Z" fill="none" stroke="#D85550" stroke-width="0.95"/>
<path d="M207.10,135.88 L209.90,138.68 L207.10,141.48 L204.30,138.68 Z" fill="none" stroke="#D85550" stroke-width="0.95"/>
<path d="M207.89,136.08 L210.69,138.88 L207.89,141.68 L205.09,138.88 Z" fill="none" stroke="#D85550" stroke-width="0.95"/>
<path d="M208.69,136.27 L211.49,139.07 L208.69,141.87 L205.89,139.07 Z" fill="none" stroke="#D85550" stroke-width="0.95"/>
<path d="M209.49,134.07 L212.29,136.87 L209.49,139.67 L206.69,136.87 Z" fill="none" stroke="#D85550" stroke-width="0.95"/>
<path d="M210.29,134.27 L213.09,137.07 L210.29,139.87 L207.49,137.07 Z" fill="none" stroke="#D85550" stroke-width="0.95"/>
<path d="M211.09,134.47 L213.89,137.27 L211.09,140.07 L208.29,137.27 Z" fill="none" stroke="#D85550" stroke-width="0.95"/>
<path d="M211.89,132.27 L214.69,135.07 L211.89,137.87 L209.09,135.07 Z" fill="none" stroke="#D85550" stroke-width="0.95"/>
<path d="M212.69,132.47 L215.49,135.27 L212.69,138.07 L209.89,135.27 Z" fill="none" stroke="#D85550" stroke-width="0.95"/>
<path d="M213.49,132.67 L216.29,135.47 L213.49,138.27 L210.69,135.47 Z" fill="none" stroke="#D85550" stroke-width="0.95"/>
<path d="M214.29,130.47 L217.09,133.27 L214.29,136.07 L211.49,133.27 Z" fill="none" stroke="#D85550" stroke-width="0.95"/>
<path d="M215.09,130.67 L217.89,133.47 L215.09,136.27 L212.29,133.47 Z" fill="none" stroke="#D85550" stroke-width="0.95"/>
<path d="M215.89,130.86 L218.69,133.66 L215.89,136.46 L213.09,133.66 Z" fill="none" stroke="#D85550" stroke-width="0.95"/>
<path d="M216.68,128.66 L219.48,131.46 L216.68,134.26 L213.88,131.46 Z" fill="none" stroke="#D85550" stroke-width="0.95"/>
<path d="M217.48,128.86 L220.28,131.66 L217.48,134.46 L214.68,131.66 Z" fill="none" stroke="#D85550" stroke-width="0.95"/>
<path d="M218.26,129.04 L221.06,131.84 L218.26,134.64 L215.46,131.84 Z" fill="none" stroke="#D85550" stroke-width="0.95"/>
<path d="M219.05,126.81 L221.85,129.61 L219.05,132.41 L216.25,129.61 Z" fill="none" stroke="#D85550" stroke-width="0.95"/>
<path d="M219.83,126.99 L222.63,129.79 L219.83,132.59 L217.03,129.79 Z" fill="none" stroke="#D85550" stroke-width="0.95"/>
<path d="M220.61,127.17 L223.41,129.97 L220.61,132.77 L217.81,129.97 Z" fill="none" stroke="#D85550" stroke-width="0.95"/>
<path d="M221.40,124.95 L224.20,127.75 L221.40,130.55 L218.60,127.75 Z" fill="none" stroke="#D85550" stroke-width="0.95"/>
<path d="M222.18,125.13 L224.98,127.93 L222.18,130.73 L219.38,127.93 Z" fill="none" stroke="#D85550" stroke-width="0.95"/>
<path d="M222.97,125.31 L225.77,128.11 L222.97,130.91 L220.17,128.11 Z" fill="none" stroke="#D85550" stroke-width="0.95"/>
<path d="M223.75,123.09 L226.55,125.89 L223.75,128.69 L220.95,125.89 Z" fill="none" stroke="#D85550" stroke-width="0.95"/>
<path d="M224.53,123.27 L227.33,126.07 L224.53,128.87 L221.73,126.07 Z" fill="none" stroke="#D85550" stroke-width="0.95"/>
<path d="M225.32,123.45 L228.12,126.25 L225.32,129.05 L222.52,126.25 Z" fill="none" stroke="#D85550" stroke-width="0.95"/>
<path d="M226.14,121.28 L228.94,124.08 L226.14,126.88 L223.34,124.08 Z" fill="none" stroke="#D85550" stroke-width="0.95"/>
<path d="M226.98,121.54 L229.78,124.34 L226.98,127.14 L224.18,124.34 Z" fill="none" stroke="#D85550" stroke-width="0.95"/>
<path d="M227.82,121.80 L230.62,124.60 L227.82,127.40 L225.02,124.60 Z" fill="none" stroke="#D85550" stroke-width="0.95"/>
<path d="M228.66,119.65 L231.46,122.45 L228.66,125.25 L225.86,122.45 Z" fill="none" stroke="#D85550" stroke-width="0.95"/>
<path d="M229.50,119.91 L232.30,122.71 L229.50,125.51 L226.70,122.71 Z" fill="none" stroke="#D85550" stroke-width="0.95"/>
<path d="M230.34,120.16 L233.14,122.96 L230.34,125.76 L227.54,122.96 Z" fill="none" stroke="#D85550" stroke-width="0.95"/>
<path d="M231.23,118.20 L234.03,121.00 L231.23,123.80 L228.43,121.00 Z" fill="none" stroke="#D85550" stroke-width="0.95"/>
<path d="M232.23,119.00 L235.03,121.80 L232.23,124.60 L229.43,121.80 Z" fill="none" stroke="#D85550" stroke-width="0.95"/>
<path d="M233.23,119.80 L236.03,122.60 L233.23,125.40 L230.43,122.60 Z" fill="none" stroke="#D85550" stroke-width="0.95"/>
<path d="M233.96,118.72 L236.76,121.52 L233.96,124.32 L231.16,121.52 Z" fill="none" stroke="#D85550" stroke-width="0.95"/>
<path d="M234.52,120.34 L237.32,123.14 L234.52,125.94 L231.72,123.14 Z" fill="none" stroke="#D85550" stroke-width="0.95"/>
<path d="M235.09,121.97 L237.89,124.77 L235.09,127.57 L232.29,124.77 Z" fill="none" stroke="#D85550" stroke-width="0.95"/>
<path d="M235.66,121.19 L238.46,123.99 L235.66,126.79 L232.86,123.99 Z" fill="none" stroke="#D85550" stroke-width="0.95"/>
<path d="M236.11,122.88 L238.91,125.68 L236.11,128.48 L233.31,125.68 Z" fill="none" stroke="#D85550" stroke-width="0.95"/>
<path d="M236.53,124.59 L239.33,127.39 L236.53,130.19 L233.73,127.39 Z" fill="none" stroke="#D85550" stroke-width="0.95"/>
<path d="M236.96,123.89 L239.76,126.69 L236.96,129.49 L234.16,126.69 Z" fill="none" stroke="#D85550" stroke-width="0.95"/>
<path d="M237.38,125.60 L240.18,128.40 L237.38,131.20 L234.58,128.40 Z" fill="none" stroke="#D85550" stroke-width="0.95"/>
<path d="M132.40,155.60 L135.30,158.50 L132.40,161.40 L129.50,158.50 Z" fill="none" stroke="#D2453F" stroke-width="1.15"/>
<path d="M142.30,155.20 L145.20,158.10 L142.30,161.00 L139.40,158.10 Z" fill="none" stroke="#D2453F" stroke-width="1.15"/>
<path d="M152.30,155.40 L155.20,158.30 L152.30,161.20 L149.40,158.30 Z" fill="none" stroke="#D2453F" stroke-width="1.15"/>
<path d="M162.40,155.40 L165.30,158.30 L162.40,161.20 L159.50,158.30 Z" fill="none" stroke="#D2453F" stroke-width="1.15"/>
<path d="M172.80,154.10 L175.70,157.00 L172.80,159.90 L169.90,157.00 Z" fill="none" stroke="#D2453F" stroke-width="1.15"/>
<path d="M182.50,151.20 L185.40,154.10 L182.50,157.00 L179.60,154.10 Z" fill="none" stroke="#D2453F" stroke-width="1.15"/>
<path d="M190.50,147.50 L193.40,150.40 L190.50,153.30 L187.60,150.40 Z" fill="none" stroke="#D2453F" stroke-width="1.15"/>
<path d="M196.20,143.60 L199.10,146.50 L196.20,149.40 L193.30,146.50 Z" fill="none" stroke="#D2453F" stroke-width="1.15"/>
<path d="M239.00,130.10 L241.90,133.00 L239.00,135.90 L236.10,133.00 Z" fill="none" stroke="#D2453F" stroke-width="1.15"/>
<path d="M240.30,136.10 L243.20,139.00 L240.30,141.90 L237.40,139.00 Z" fill="none" stroke="#D2453F" stroke-width="1.15"/>
<path d="M241.20,143.10 L244.10,146.00 L241.20,148.90 L238.30,146.00 Z" fill="none" stroke="#D2453F" stroke-width="1.15"/>
<path d="M242.50,158.70 L245.40,161.60 L242.50,164.50 L239.60,161.60 Z" fill="none" stroke="#D2453F" stroke-width="1.15"/>
<path d="M199.50,128.60 L202.30,131.40 L199.50,134.20 L196.70,131.40 Z" fill="none" stroke="#A2C962" stroke-width="0.95"/>
<path d="M200.41,128.99 L203.21,131.79 L200.41,134.59 L197.61,131.79 Z" fill="none" stroke="#A2C962" stroke-width="0.95"/>
<path d="M201.32,129.38 L204.12,132.18 L201.32,134.98 L198.52,132.18 Z" fill="none" stroke="#A2C962" stroke-width="0.95"/>
<path d="M202.24,127.37 L205.04,130.17 L202.24,132.97 L199.44,130.17 Z" fill="none" stroke="#A2C962" stroke-width="0.95"/>
<path d="M203.15,127.76 L205.95,130.56 L203.15,133.36 L200.35,130.56 Z" fill="none" stroke="#A2C962" stroke-width="0.95"/>
<path d="M204.06,128.15 L206.86,130.95 L204.06,133.75 L201.26,130.95 Z" fill="none" stroke="#A2C962" stroke-width="0.95"/>
<path d="M204.97,126.14 L207.77,128.94 L204.97,131.74 L202.17,128.94 Z" fill="none" stroke="#A2C962" stroke-width="0.95"/>
<path d="M205.89,126.53 L208.69,129.33 L205.89,132.13 L203.09,129.33 Z" fill="none" stroke="#A2C962" stroke-width="0.95"/>
<path d="M206.75,126.84 L209.55,129.64 L206.75,132.44 L203.95,129.64 Z" fill="none" stroke="#A2C962" stroke-width="0.95"/>
<path d="M207.55,124.64 L210.35,127.44 L207.55,130.24 L204.75,127.44 Z" fill="none" stroke="#A2C962" stroke-width="0.95"/>
<path d="M208.35,124.84 L211.15,127.64 L208.35,130.44 L205.55,127.64 Z" fill="none" stroke="#A2C962" stroke-width="0.95"/>
<path d="M209.15,125.03 L211.95,127.83 L209.15,130.63 L206.35,127.83 Z" fill="none" stroke="#A2C962" stroke-width="0.95"/>
<path d="M209.94,122.83 L212.74,125.63 L209.94,128.43 L207.14,125.63 Z" fill="none" stroke="#A2C962" stroke-width="0.95"/>
<path d="M210.74,123.03 L213.54,125.83 L210.74,128.63 L207.94,125.83 Z" fill="none" stroke="#A2C962" stroke-width="0.95"/>
<path d="M211.54,123.23 L214.34,126.03 L211.54,128.83 L208.74,126.03 Z" fill="none" stroke="#A2C962" stroke-width="0.95"/>
<path d="M212.34,121.03 L215.14,123.83 L212.34,126.63 L209.54,123.83 Z" fill="none" stroke="#A2C962" stroke-width="0.95"/>
<path d="M213.14,121.23 L215.94,124.03 L213.14,126.83 L210.34,124.03 Z" fill="none" stroke="#A2C962" stroke-width="0.95"/>
<path d="M213.94,121.43 L216.74,124.23 L213.94,127.03 L211.14,124.23 Z" fill="none" stroke="#A2C962" stroke-width="0.95"/>
<path d="M214.74,119.23 L217.54,122.03 L214.74,124.83 L211.94,122.03 Z" fill="none" stroke="#A2C962" stroke-width="0.95"/>
<path d="M215.54,119.43 L218.34,122.23 L215.54,125.03 L212.74,122.23 Z" fill="none" stroke="#A2C962" stroke-width="0.95"/>
<path d="M216.34,119.62 L219.14,122.42 L216.34,125.22 L213.54,122.42 Z" fill="none" stroke="#A2C962" stroke-width="0.95"/>
<path d="M217.14,117.42 L219.94,120.22 L217.14,123.02 L214.34,120.22 Z" fill="none" stroke="#A2C962" stroke-width="0.95"/>
<path d="M217.92,117.61 L220.72,120.41 L217.92,123.21 L215.12,120.41 Z" fill="none" stroke="#A2C962" stroke-width="0.95"/>
<path d="M218.71,117.78 L221.51,120.58 L218.71,123.38 L215.91,120.58 Z" fill="none" stroke="#A2C962" stroke-width="0.95"/>
<path d="M219.49,115.56 L222.29,118.36 L219.49,121.16 L216.69,118.36 Z" fill="none" stroke="#A2C962" stroke-width="0.95"/>
<path d="M220.27,115.74 L223.07,118.54 L220.27,121.34 L217.47,118.54 Z" fill="none" stroke="#A2C962" stroke-width="0.95"/>
<path d="M221.06,115.92 L223.86,118.72 L221.06,121.52 L218.26,118.72 Z" fill="none" stroke="#A2C962" stroke-width="0.95"/>
<path d="M221.84,113.70 L224.64,116.50 L221.84,119.30 L219.04,116.50 Z" fill="none" stroke="#A2C962" stroke-width="0.95"/>
<path d="M222.63,113.88 L225.43,116.68 L222.63,119.48 L219.83,116.68 Z" fill="none" stroke="#A2C962" stroke-width="0.95"/>
<path d="M223.41,114.06 L226.21,116.86 L223.41,119.66 L220.61,116.86 Z" fill="none" stroke="#A2C962" stroke-width="0.95"/>
<path d="M224.19,111.84 L226.99,114.64 L224.19,117.44 L221.39,114.64 Z" fill="none" stroke="#A2C962" stroke-width="0.95"/>
<path d="M224.98,112.02 L227.78,114.82 L224.98,117.62 L222.18,114.82 Z" fill="none" stroke="#A2C962" stroke-width="0.95"/>
<path d="M225.78,112.22 L228.58,115.02 L225.78,117.82 L222.98,115.02 Z" fill="none" stroke="#A2C962" stroke-width="0.95"/>
<path d="M226.61,110.06 L229.41,112.86 L226.61,115.66 L223.81,112.86 Z" fill="none" stroke="#A2C962" stroke-width="0.95"/>
<path d="M227.44,110.31 L230.24,113.11 L227.44,115.91 L224.64,113.11 Z" fill="none" stroke="#A2C962" stroke-width="0.95"/>
<path d="M228.27,110.55 L231.07,113.35 L228.27,116.15 L225.47,113.35 Z" fill="none" stroke="#A2C962" stroke-width="0.95"/>
<path d="M229.10,108.40 L231.90,111.20 L229.10,114.00 L226.30,111.20 Z" fill="none" stroke="#A2C962" stroke-width="0.95"/>
<path d="M229.94,108.64 L232.74,111.44 L229.94,114.24 L227.14,111.44 Z" fill="none" stroke="#A2C962" stroke-width="0.95"/>
<path d="M230.77,108.89 L233.57,111.69 L230.77,114.49 L227.97,111.69 Z" fill="none" stroke="#A2C962" stroke-width="0.95"/>
<path d="M231.74,107.20 L234.54,110.00 L231.74,112.80 L228.94,110.00 Z" fill="none" stroke="#A2C962" stroke-width="0.95"/>
<path d="M232.74,108.00 L235.54,110.80 L232.74,113.60 L229.94,110.80 Z" fill="none" stroke="#A2C962" stroke-width="0.95"/>
<path d="M233.69,108.91 L236.49,111.71 L233.69,114.51 L230.89,111.71 Z" fill="none" stroke="#A2C962" stroke-width="0.95"/>
<path d="M234.34,108.07 L237.14,110.87 L234.34,113.67 L231.54,110.87 Z" fill="none" stroke="#A2C962" stroke-width="0.95"/>
<path d="M234.99,109.63 L237.79,112.43 L234.99,115.23 L232.19,112.43 Z" fill="none" stroke="#A2C962" stroke-width="0.95"/>
<path d="M235.63,111.20 L238.43,114.00 L235.63,116.80 L232.83,114.00 Z" fill="none" stroke="#A2C962" stroke-width="0.95"/>
<path d="M236.28,110.36 L239.08,113.16 L236.28,115.96 L233.48,113.16 Z" fill="none" stroke="#A2C962" stroke-width="0.95"/>
<path d="M236.74,112.04 L239.54,114.84 L236.74,117.64 L233.94,114.84 Z" fill="none" stroke="#A2C962" stroke-width="0.95"/>
<path d="M237.16,113.75 L239.96,116.55 L237.16,119.35 L234.36,116.55 Z" fill="none" stroke="#A2C962" stroke-width="0.95"/>
<path d="M237.58,113.05 L240.38,115.85 L237.58,118.65 L234.78,115.85 Z" fill="none" stroke="#A2C962" stroke-width="0.95"/>
<path d="M238.00,114.76 L240.80,117.56 L238.00,120.36 L235.20,117.56 Z" fill="none" stroke="#A2C962" stroke-width="0.95"/>
<path d="M132.40,146.90 L135.30,149.80 L132.40,152.70 L129.50,149.80 Z" fill="none" stroke="#96C04E" stroke-width="1.15"/>
<path d="M142.30,145.40 L145.20,148.30 L142.30,151.20 L139.40,148.30 Z" fill="none" stroke="#96C04E" stroke-width="1.15"/>
<path d="M152.30,144.60 L155.20,147.50 L152.30,150.40 L149.40,147.50 Z" fill="none" stroke="#96C04E" stroke-width="1.15"/>
<path d="M162.40,143.40 L165.30,146.30 L162.40,149.20 L159.50,146.30 Z" fill="none" stroke="#96C04E" stroke-width="1.15"/>
<path d="M172.80,141.90 L175.70,144.80 L172.80,147.70 L169.90,144.80 Z" fill="none" stroke="#96C04E" stroke-width="1.15"/>
<path d="M182.50,138.10 L185.40,141.00 L182.50,143.90 L179.60,141.00 Z" fill="none" stroke="#96C04E" stroke-width="1.15"/>
<path d="M190.50,134.60 L193.40,137.50 L190.50,140.40 L187.60,137.50 Z" fill="none" stroke="#96C04E" stroke-width="1.15"/>
<path d="M196.20,131.10 L199.10,134.00 L196.20,136.90 L193.30,134.00 Z" fill="none" stroke="#96C04E" stroke-width="1.15"/>
<path d="M239.50,118.60 L242.40,121.50 L239.50,124.40 L236.60,121.50 Z" fill="none" stroke="#96C04E" stroke-width="1.15"/>
<path d="M240.60,124.10 L243.50,127.00 L240.60,129.90 L237.70,127.00 Z" fill="none" stroke="#96C04E" stroke-width="1.15"/>
<path d="M241.50,130.10 L244.40,133.00 L241.50,135.90 L238.60,133.00 Z" fill="none" stroke="#96C04E" stroke-width="1.15"/>
<path d="M242.50,145.70 L245.40,148.60 L242.50,151.50 L239.60,148.60 Z" fill="none" stroke="#96C04E" stroke-width="1.15"/>
<path d="M199.00,117.90 L201.80,120.70 L199.00,123.50 L196.20,120.70 Z" fill="none" stroke="#9578C4" stroke-width="0.95"/>
<path d="M199.74,118.03 L202.54,120.83 L199.74,123.63 L196.94,120.83 Z" fill="none" stroke="#9578C4" stroke-width="0.95"/>
<path d="M200.48,118.15 L203.28,120.95 L200.48,123.75 L197.68,120.95 Z" fill="none" stroke="#9578C4" stroke-width="0.95"/>
<path d="M201.22,115.88 L204.02,118.68 L201.22,121.48 L198.42,118.68 Z" fill="none" stroke="#9578C4" stroke-width="0.95"/>
<path d="M201.95,116.00 L204.75,118.80 L201.95,121.60 L199.15,118.80 Z" fill="none" stroke="#9578C4" stroke-width="0.95"/>
<path d="M202.69,116.13 L205.49,118.93 L202.69,121.73 L199.89,118.93 Z" fill="none" stroke="#9578C4" stroke-width="0.95"/>
<path d="M203.43,113.85 L206.23,116.65 L203.43,119.45 L200.63,116.65 Z" fill="none" stroke="#9578C4" stroke-width="0.95"/>
<path d="M204.24,114.06 L207.04,116.86 L204.24,119.66 L201.44,116.86 Z" fill="none" stroke="#9578C4" stroke-width="0.95"/>
<path d="M205.06,114.30 L207.86,117.10 L205.06,119.90 L202.26,117.10 Z" fill="none" stroke="#9578C4" stroke-width="0.95"/>
<path d="M205.88,112.13 L208.68,114.93 L205.88,117.73 L203.08,114.93 Z" fill="none" stroke="#9578C4" stroke-width="0.95"/>
<path d="M206.71,112.36 L209.51,115.16 L206.71,117.96 L203.91,115.16 Z" fill="none" stroke="#9578C4" stroke-width="0.95"/>
<path d="M207.53,112.60 L210.33,115.40 L207.53,118.20 L204.73,115.40 Z" fill="none" stroke="#9578C4" stroke-width="0.95"/>
<path d="M208.35,110.43 L211.15,113.23 L208.35,116.03 L205.55,113.23 Z" fill="none" stroke="#9578C4" stroke-width="0.95"/>
<path d="M209.18,110.66 L211.98,113.46 L209.18,116.26 L206.38,113.46 Z" fill="none" stroke="#9578C4" stroke-width="0.95"/>
<path d="M210.00,110.89 L212.80,113.69 L210.00,116.49 L207.20,113.69 Z" fill="none" stroke="#9578C4" stroke-width="0.95"/>
<path d="M210.83,108.73 L213.63,111.53 L210.83,114.33 L208.03,111.53 Z" fill="none" stroke="#9578C4" stroke-width="0.95"/>
<path d="M211.65,108.96 L214.45,111.76 L211.65,114.56 L208.85,111.76 Z" fill="none" stroke="#9578C4" stroke-width="0.95"/>
<path d="M212.47,109.19 L215.27,111.99 L212.47,114.79 L209.67,111.99 Z" fill="none" stroke="#9578C4" stroke-width="0.95"/>
<path d="M213.30,107.03 L216.10,109.83 L213.30,112.63 L210.50,109.83 Z" fill="none" stroke="#9578C4" stroke-width="0.95"/>
<path d="M214.12,107.26 L216.92,110.06 L214.12,112.86 L211.32,110.06 Z" fill="none" stroke="#9578C4" stroke-width="0.95"/>
<path d="M214.93,107.47 L217.73,110.27 L214.93,113.07 L212.13,110.27 Z" fill="none" stroke="#9578C4" stroke-width="0.95"/>
<path d="M215.73,105.27 L218.53,108.07 L215.73,110.87 L212.93,108.07 Z" fill="none" stroke="#9578C4" stroke-width="0.95"/>
<path d="M216.53,105.47 L219.33,108.27 L216.53,111.07 L213.73,108.27 Z" fill="none" stroke="#9578C4" stroke-width="0.95"/>
<path d="M217.32,105.66 L220.12,108.46 L217.32,111.26 L214.52,108.46 Z" fill="none" stroke="#9578C4" stroke-width="0.95"/>
<path d="M218.12,103.46 L220.92,106.26 L218.12,109.06 L215.32,106.26 Z" fill="none" stroke="#9578C4" stroke-width="0.95"/>
<path d="M218.92,103.66 L221.72,106.46 L218.92,109.26 L216.12,106.46 Z" fill="none" stroke="#9578C4" stroke-width="0.95"/>
<path d="M219.72,103.86 L222.52,106.66 L219.72,109.46 L216.92,106.66 Z" fill="none" stroke="#9578C4" stroke-width="0.95"/>
<path d="M220.51,101.65 L223.31,104.45 L220.51,107.25 L217.71,104.45 Z" fill="none" stroke="#9578C4" stroke-width="0.95"/>
<path d="M221.31,101.85 L224.11,104.65 L221.31,107.45 L218.51,104.65 Z" fill="none" stroke="#9578C4" stroke-width="0.95"/>
<path d="M222.11,102.05 L224.91,104.85 L222.11,107.65 L219.31,104.85 Z" fill="none" stroke="#9578C4" stroke-width="0.95"/>
<path d="M222.92,99.86 L225.72,102.66 L222.92,105.46 L220.12,102.66 Z" fill="none" stroke="#9578C4" stroke-width="0.95"/>
<path d="M223.77,100.14 L226.57,102.94 L223.77,105.74 L220.97,102.94 Z" fill="none" stroke="#9578C4" stroke-width="0.95"/>
<path d="M224.62,100.41 L227.42,103.21 L224.62,106.01 L221.82,103.21 Z" fill="none" stroke="#9578C4" stroke-width="0.95"/>
<path d="M225.47,98.29 L228.27,101.09 L225.47,103.89 L222.67,101.09 Z" fill="none" stroke="#9578C4" stroke-width="0.95"/>
<path d="M226.32,98.56 L229.12,101.36 L226.32,104.16 L223.52,101.36 Z" fill="none" stroke="#9578C4" stroke-width="0.95"/>
<path d="M227.18,98.84 L229.98,101.64 L227.18,104.44 L224.38,101.64 Z" fill="none" stroke="#9578C4" stroke-width="0.95"/>
<path d="M228.03,96.71 L230.83,99.51 L228.03,102.31 L225.23,99.51 Z" fill="none" stroke="#9578C4" stroke-width="0.95"/>
<path d="M228.88,96.98 L231.68,99.78 L228.88,102.58 L226.08,99.78 Z" fill="none" stroke="#9578C4" stroke-width="0.95"/>
<path d="M229.76,97.36 L232.56,100.16 L229.76,102.96 L226.96,100.16 Z" fill="none" stroke="#9578C4" stroke-width="0.95"/>
<path d="M230.75,95.62 L233.55,98.42 L230.75,101.22 L227.95,98.42 Z" fill="none" stroke="#9578C4" stroke-width="0.95"/>
<path d="M231.74,96.27 L234.54,99.07 L231.74,101.87 L228.94,99.07 Z" fill="none" stroke="#9578C4" stroke-width="0.95"/>
<path d="M232.73,96.93 L235.53,99.73 L232.73,102.53 L229.93,99.73 Z" fill="none" stroke="#9578C4" stroke-width="0.95"/>
<path d="M233.68,95.29 L236.48,98.09 L233.68,100.89 L230.88,98.09 Z" fill="none" stroke="#9578C4" stroke-width="0.95"/>
<path d="M234.37,96.82 L237.17,99.62 L234.37,102.42 L231.57,99.62 Z" fill="none" stroke="#9578C4" stroke-width="0.95"/>
<path d="M235.05,98.35 L237.85,101.15 L235.05,103.95 L232.25,101.15 Z" fill="none" stroke="#9578C4" stroke-width="0.95"/>
<path d="M235.73,97.48 L238.53,100.28 L235.73,103.08 L232.93,100.28 Z" fill="none" stroke="#9578C4" stroke-width="0.95"/>
<path d="M236.41,99.02 L239.21,101.82 L236.41,104.62 L233.61,101.82 Z" fill="none" stroke="#9578C4" stroke-width="0.95"/>
<path d="M236.87,100.71 L239.67,103.51 L236.87,106.31 L234.07,103.51 Z" fill="none" stroke="#9578C4" stroke-width="0.95"/>
<path d="M237.32,100.00 L240.12,102.80 L237.32,105.60 L234.52,102.80 Z" fill="none" stroke="#9578C4" stroke-width="0.95"/>
<path d="M237.78,101.69 L240.58,104.49 L237.78,107.29 L234.98,104.49 Z" fill="none" stroke="#9578C4" stroke-width="0.95"/>
<path d="M238.24,103.38 L241.04,106.18 L238.24,108.98 L235.44,106.18 Z" fill="none" stroke="#9578C4" stroke-width="0.95"/>
<path d="M132.40,136.60 L135.30,139.50 L132.40,142.40 L129.50,139.50 Z" fill="none" stroke="#8A66BC" stroke-width="1.15"/>
<path d="M142.30,135.70 L145.20,138.60 L142.30,141.50 L139.40,138.60 Z" fill="none" stroke="#8A66BC" stroke-width="1.15"/>
<path d="M152.30,135.00 L155.20,137.90 L152.30,140.80 L149.40,137.90 Z" fill="none" stroke="#8A66BC" stroke-width="1.15"/>
<path d="M162.40,134.10 L165.30,137.00 L162.40,139.90 L159.50,137.00 Z" fill="none" stroke="#8A66BC" stroke-width="1.15"/>
<path d="M172.80,132.20 L175.70,135.10 L172.80,138.00 L169.90,135.10 Z" fill="none" stroke="#8A66BC" stroke-width="1.15"/>
<path d="M182.80,129.40 L185.70,132.30 L182.80,135.20 L179.90,132.30 Z" fill="none" stroke="#8A66BC" stroke-width="1.15"/>
<path d="M190.50,124.50 L193.40,127.40 L190.50,130.30 L187.60,127.40 Z" fill="none" stroke="#8A66BC" stroke-width="1.15"/>
<path d="M196.20,120.40 L199.10,123.30 L196.20,126.20 L193.30,123.30 Z" fill="none" stroke="#8A66BC" stroke-width="1.15"/>
<path d="M239.30,105.60 L242.20,108.50 L239.30,111.40 L236.40,108.50 Z" fill="none" stroke="#8A66BC" stroke-width="1.15"/>
<path d="M239.90,111.20 L242.80,114.10 L239.90,117.00 L237.00,114.10 Z" fill="none" stroke="#8A66BC" stroke-width="1.15"/>
<path d="M240.50,117.40 L243.40,120.30 L240.50,123.20 L237.60,120.30 Z" fill="none" stroke="#8A66BC" stroke-width="1.15"/>
<path d="M241.10,122.60 L244.00,125.50 L241.10,128.40 L238.20,125.50 Z" fill="none" stroke="#8A66BC" stroke-width="1.15"/>
<path d="M242.30,134.40 L245.20,137.30 L242.30,140.20 L239.40,137.30 Z" fill="none" stroke="#8A66BC" stroke-width="1.15"/>
<path d="M50.00,186.60 C50.13,186.78 50.13,187.45 50.80,187.70 C51.47,187.95 52.47,188.02 54.00,188.10 C55.53,188.18 55.67,188.50 60.00,188.20 C64.33,187.90 74.17,186.95 80.00,186.30 C85.83,185.65 92.00,184.82 95.00,184.30 C98.00,183.78 95.50,183.53 98.00,183.20 C100.50,182.87 105.50,182.57 110.00,182.30 C114.50,182.03 120.00,181.83 125.00,181.60 C130.00,181.37 134.17,181.30 140.00,180.90 C145.83,180.50 154.55,179.80 160.00,179.20 C165.45,178.60 168.48,178.13 172.70,177.30 C176.92,176.47 181.08,175.57 185.30,174.20 C189.52,172.83 194.83,170.47 198.00,169.10 C201.17,167.73 202.20,167.27 204.30,166.00 C206.40,164.73 208.92,163.08 210.60,161.50 C212.28,159.92 213.45,158.17 214.40,156.50 C215.35,154.83 215.70,153.25 216.30,151.50 C216.90,149.75 217.47,148.58 218.00,146.00 C218.53,143.42 218.93,139.27 219.50,136.00 C220.07,132.73 220.73,128.48 221.40,126.40 C222.07,124.32 222.82,124.18 223.50,123.50 C224.18,122.82 224.60,122.15 225.50,122.30 C226.40,122.45 227.77,123.03 228.90,124.40 C230.03,125.77 231.15,127.88 232.30,130.50 C233.45,133.12 234.92,136.85 235.80,140.10 C236.68,143.35 236.98,145.70 237.60,150.00 C238.22,154.30 238.85,161.57 239.50,165.90 C240.15,170.23 240.88,172.95 241.50,176.00 C242.12,179.05 242.92,182.83 243.20,184.20" fill="none" stroke="#3B6FC2" stroke-width="1.4" stroke-linejoin="round"/>
<path d="M50.00,175.00 C50.13,175.20 50.13,175.90 50.80,176.20 C51.47,176.50 52.47,176.68 54.00,176.80 C55.53,176.92 55.67,177.23 60.00,176.90 C64.33,176.57 74.17,175.48 80.00,174.80 C85.83,174.12 92.00,173.30 95.00,172.80 C98.00,172.30 95.50,172.07 98.00,171.80 C100.50,171.53 105.50,171.43 110.00,171.20 C114.50,170.97 120.00,170.70 125.00,170.40 C130.00,170.10 134.17,169.92 140.00,169.40 C145.83,168.88 154.17,168.20 160.00,167.30 C165.83,166.40 170.83,165.08 175.00,164.00 C179.17,162.92 180.83,162.38 185.00,160.80 C189.17,159.22 195.83,156.55 200.00,154.50 C204.17,152.45 207.50,150.25 210.00,148.50 C212.50,146.75 213.75,145.33 215.00,144.00 C216.25,142.67 216.83,142.50 217.50,140.50 C218.17,138.50 218.53,135.03 219.00,132.00 C219.47,128.97 219.72,124.47 220.30,122.30 C220.88,120.13 221.55,119.97 222.50,119.00 C223.45,118.03 224.70,117.53 226.00,116.50 C227.30,115.47 229.22,112.88 230.30,112.80 C231.38,112.72 231.82,114.42 232.50,116.00 C233.18,117.58 233.85,120.13 234.40,122.30 C234.95,124.47 235.35,126.72 235.80,129.00 C236.25,131.28 236.57,133.00 237.10,136.00 C237.63,139.00 238.35,142.67 239.00,147.00 C239.65,151.33 240.25,156.83 241.00,162.00 C241.75,167.17 243.08,175.33 243.50,178.00" fill="none" stroke="#C3322B" stroke-width="1.4" stroke-linejoin="round"/>
<path d="M50.00,162.80 C50.13,163.03 50.13,163.88 50.80,164.20 C51.47,164.52 52.47,164.60 54.00,164.70 C55.53,164.80 55.67,165.15 60.00,164.80 C64.33,164.45 74.17,163.32 80.00,162.60 C85.83,161.88 92.00,161.02 95.00,160.50 C98.00,159.98 95.50,159.80 98.00,159.50 C100.50,159.20 105.50,158.98 110.00,158.70 C114.50,158.42 120.00,158.10 125.00,157.80 C130.00,157.50 134.17,157.27 140.00,156.90 C145.83,156.53 154.55,156.15 160.00,155.60 C165.45,155.05 168.48,154.60 172.70,153.60 C176.92,152.60 181.08,151.28 185.30,149.60 C189.52,147.92 194.38,145.02 198.00,143.50 C201.62,141.98 204.50,141.50 207.00,140.50 C209.50,139.50 211.58,138.50 213.00,137.50 C214.42,136.50 214.83,136.08 215.50,134.50 C216.17,132.92 216.50,130.75 217.00,128.00 C217.50,125.25 218.00,120.58 218.50,118.00 C219.00,115.42 219.25,113.92 220.00,112.50 C220.75,111.08 221.92,110.58 223.00,109.50 C224.08,108.42 225.28,107.28 226.50,106.00 C227.72,104.72 229.30,102.22 230.30,101.80 C231.30,101.38 231.80,102.13 232.50,103.50 C233.20,104.87 233.95,107.92 234.50,110.00 C235.05,112.08 235.37,112.80 235.80,116.00 C236.23,119.20 236.57,125.20 237.10,129.20 C237.63,133.20 238.35,135.70 239.00,140.00 C239.65,144.30 240.20,149.83 241.00,155.00 C241.80,160.17 243.33,168.33 243.80,171.00" fill="none" stroke="#7DB233" stroke-width="1.4" stroke-linejoin="round"/>
<path d="M50.00,150.20 C50.13,150.45 50.13,151.33 50.80,151.70 C51.47,152.07 52.47,152.25 54.00,152.40 C55.53,152.55 55.67,152.90 60.00,152.60 C64.33,152.30 74.17,151.30 80.00,150.60 C85.83,149.90 92.00,148.95 95.00,148.40 C98.00,147.85 95.50,147.60 98.00,147.30 C100.50,147.00 105.50,146.87 110.00,146.60 C114.50,146.33 120.00,146.03 125.00,145.70 C130.00,145.37 134.17,145.13 140.00,144.60 C145.83,144.07 154.67,143.35 160.00,142.50 C165.33,141.65 167.83,140.83 172.00,139.50 C176.17,138.17 181.17,136.25 185.00,134.50 C188.83,132.75 191.67,130.92 195.00,129.00 C198.33,127.08 202.33,124.75 205.00,123.00 C207.67,121.25 209.33,119.92 211.00,118.50 C212.67,117.08 214.03,115.92 215.00,114.50 C215.97,113.08 216.30,112.08 216.80,110.00 C217.30,107.92 217.55,104.58 218.00,102.00 C218.45,99.42 218.92,96.58 219.50,94.50 C220.08,92.42 220.83,90.75 221.50,89.50 C222.17,88.25 222.80,87.60 223.50,87.00 C224.20,86.40 224.87,85.93 225.70,85.90 C226.53,85.87 227.62,86.20 228.50,86.80 C229.38,87.40 230.12,88.30 231.00,89.50 C231.88,90.70 233.03,92.42 233.80,94.00 C234.57,95.58 235.07,97.33 235.60,99.00 C236.13,100.67 236.43,101.50 237.00,104.00 C237.57,106.50 238.33,110.00 239.00,114.00 C239.67,118.00 240.37,122.33 241.00,128.00 C241.63,133.67 242.33,142.00 242.80,148.00 C243.27,154.00 243.63,161.33 243.80,164.00" fill="none" stroke="#7048A2" stroke-width="1.4" stroke-linejoin="round"/>
<path d="M470.00,149.30 L473.10,152.40 L470.00,155.50 L466.90,152.40 Z" fill="none" stroke="#5E8CCB" stroke-width="0.95"/>
<path d="M470.71,149.40 L473.81,152.50 L470.71,155.60 L467.61,152.50 Z" fill="none" stroke="#5E8CCB" stroke-width="0.95"/>
<path d="M471.43,149.50 L474.53,152.60 L471.43,155.70 L468.33,152.60 Z" fill="none" stroke="#5E8CCB" stroke-width="0.95"/>
<path d="M472.14,147.20 L475.24,150.30 L472.14,153.40 L469.04,150.30 Z" fill="none" stroke="#5E8CCB" stroke-width="0.95"/>
<path d="M472.86,147.30 L475.96,150.40 L472.86,153.50 L469.76,150.40 Z" fill="none" stroke="#5E8CCB" stroke-width="0.95"/>
<path d="M473.57,147.40 L476.67,150.50 L473.57,153.60 L470.47,150.50 Z" fill="none" stroke="#5E8CCB" stroke-width="0.95"/>
<path d="M474.29,145.10 L477.39,148.20 L474.29,151.30 L471.19,148.20 Z" fill="none" stroke="#5E8CCB" stroke-width="0.95"/>
<path d="M475.00,145.20 L478.10,148.30 L475.00,151.40 L471.90,148.30 Z" fill="none" stroke="#5E8CCB" stroke-width="0.95"/>
<path d="M475.83,145.44 L478.93,148.54 L475.83,151.64 L472.73,148.54 Z" fill="none" stroke="#5E8CCB" stroke-width="0.95"/>
<path d="M476.66,143.28 L479.76,146.38 L476.66,149.48 L473.56,146.38 Z" fill="none" stroke="#5E8CCB" stroke-width="0.95"/>
<path d="M477.49,143.53 L480.59,146.63 L477.49,149.73 L474.39,146.63 Z" fill="none" stroke="#5E8CCB" stroke-width="0.95"/>
<path d="M478.32,143.77 L481.42,146.87 L478.32,149.97 L475.22,146.87 Z" fill="none" stroke="#5E8CCB" stroke-width="0.95"/>
<path d="M479.15,141.61 L482.25,144.71 L479.15,147.81 L476.05,144.71 Z" fill="none" stroke="#5E8CCB" stroke-width="0.95"/>
<path d="M479.98,141.85 L483.08,144.95 L479.98,148.05 L476.88,144.95 Z" fill="none" stroke="#5E8CCB" stroke-width="0.95"/>
<path d="M480.81,142.10 L483.91,145.20 L480.81,148.30 L477.71,145.20 Z" fill="none" stroke="#5E8CCB" stroke-width="0.95"/>
<path d="M481.70,140.05 L484.80,143.15 L481.70,146.25 L478.60,143.15 Z" fill="none" stroke="#5E8CCB" stroke-width="0.95"/>
<path d="M482.62,140.46 L485.72,143.56 L482.62,146.66 L479.52,143.56 Z" fill="none" stroke="#5E8CCB" stroke-width="0.95"/>
<path d="M483.54,140.87 L486.64,143.97 L483.54,147.07 L480.44,143.97 Z" fill="none" stroke="#5E8CCB" stroke-width="0.95"/>
<path d="M484.46,138.88 L487.56,141.98 L484.46,145.08 L481.36,141.98 Z" fill="none" stroke="#5E8CCB" stroke-width="0.95"/>
<path d="M485.38,139.29 L488.48,142.39 L485.38,145.49 L482.28,142.39 Z" fill="none" stroke="#5E8CCB" stroke-width="0.95"/>
<path d="M486.30,139.70 L489.40,142.80 L486.30,145.90 L483.20,142.80 Z" fill="none" stroke="#5E8CCB" stroke-width="0.95"/>
<path d="M487.24,137.75 L490.34,140.85 L487.24,143.95 L484.14,140.85 Z" fill="none" stroke="#5E8CCB" stroke-width="0.95"/>
<path d="M488.21,138.34 L491.31,141.44 L488.21,144.54 L485.11,141.44 Z" fill="none" stroke="#5E8CCB" stroke-width="0.95"/>
<path d="M489.19,138.92 L492.29,142.02 L489.19,145.12 L486.09,142.02 Z" fill="none" stroke="#5E8CCB" stroke-width="0.95"/>
<path d="M490.17,137.11 L493.27,140.21 L490.17,143.31 L487.07,140.21 Z" fill="none" stroke="#5E8CCB" stroke-width="0.95"/>
<path d="M491.14,137.70 L494.24,140.80 L491.14,143.90 L488.04,140.80 Z" fill="none" stroke="#5E8CCB" stroke-width="0.95"/>
<path d="M492.13,138.47 L495.23,141.57 L492.13,144.67 L489.03,141.57 Z" fill="none" stroke="#5E8CCB" stroke-width="0.95"/>
<path d="M493.12,137.00 L496.22,140.10 L493.12,143.20 L490.02,140.10 Z" fill="none" stroke="#5E8CCB" stroke-width="0.95"/>
<path d="M494.11,137.92 L497.21,141.02 L494.11,144.12 L491.01,141.02 Z" fill="none" stroke="#5E8CCB" stroke-width="0.95"/>
<path d="M495.11,138.85 L498.21,141.95 L495.11,145.05 L492.01,141.95 Z" fill="none" stroke="#5E8CCB" stroke-width="0.95"/>
<path d="M496.00,137.63 L499.10,140.73 L496.00,143.83 L492.90,140.73 Z" fill="none" stroke="#5E8CCB" stroke-width="0.95"/>
<path d="M496.84,138.98 L499.94,142.08 L496.84,145.18 L493.74,142.08 Z" fill="none" stroke="#5E8CCB" stroke-width="0.95"/>
<path d="M497.67,140.33 L500.77,143.43 L497.67,146.53 L494.57,143.43 Z" fill="none" stroke="#5E8CCB" stroke-width="0.95"/>
<path d="M498.51,139.28 L501.61,142.38 L498.51,145.48 L495.41,142.38 Z" fill="none" stroke="#5E8CCB" stroke-width="0.95"/>
<path d="M499.21,140.76 L502.31,143.86 L499.21,146.96 L496.11,143.86 Z" fill="none" stroke="#5E8CCB" stroke-width="0.95"/>
<path d="M499.73,142.41 L502.83,145.51 L499.73,148.61 L496.63,145.51 Z" fill="none" stroke="#5E8CCB" stroke-width="0.95"/>
<path d="M500.24,141.67 L503.34,144.77 L500.24,147.87 L497.14,144.77 Z" fill="none" stroke="#5E8CCB" stroke-width="0.95"/>
<path d="M407.40,178.40 L410.60,181.60 L407.40,184.80 L404.20,181.60 Z" fill="none" stroke="#4F7FC4" stroke-width="1.15"/>
<path d="M418.60,175.00 L421.80,178.20 L418.60,181.40 L415.40,178.20 Z" fill="none" stroke="#4F7FC4" stroke-width="1.15"/>
<path d="M429.80,170.90 L433.00,174.10 L429.80,177.30 L426.60,174.10 Z" fill="none" stroke="#4F7FC4" stroke-width="1.15"/>
<path d="M439.50,167.20 L442.70,170.40 L439.50,173.60 L436.30,170.40 Z" fill="none" stroke="#4F7FC4" stroke-width="1.15"/>
<path d="M450.60,163.90 L453.80,167.10 L450.60,170.30 L447.40,167.10 Z" fill="none" stroke="#4F7FC4" stroke-width="1.15"/>
<path d="M459.30,159.30 L462.50,162.50 L459.30,165.70 L456.10,162.50 Z" fill="none" stroke="#4F7FC4" stroke-width="1.15"/>
<path d="M465.10,155.70 L468.30,158.90 L465.10,162.10 L461.90,158.90 Z" fill="none" stroke="#4F7FC4" stroke-width="1.15"/>
<path d="M468.50,152.80 L471.70,156.00 L468.50,159.20 L465.30,156.00 Z" fill="none" stroke="#4F7FC4" stroke-width="1.15"/>
<path d="M503.20,147.60 L506.40,150.80 L503.20,154.00 L500.00,150.80 Z" fill="none" stroke="#4F7FC4" stroke-width="1.15"/>
<path d="M503.20,156.10 L506.40,159.30 L503.20,162.50 L500.00,159.30 Z" fill="none" stroke="#4F7FC4" stroke-width="1.15"/>
<path d="M504.30,166.60 L507.50,169.80 L504.30,173.00 L501.10,169.80 Z" fill="none" stroke="#4F7FC4" stroke-width="1.15"/>
<path d="M469.50,132.60 L472.60,135.70 L469.50,138.80 L466.40,135.70 Z" fill="none" stroke="#D85550" stroke-width="0.95"/>
<path d="M470.34,132.86 L473.44,135.96 L470.34,139.06 L467.24,135.96 Z" fill="none" stroke="#D85550" stroke-width="0.95"/>
<path d="M471.18,133.11 L474.28,136.21 L471.18,139.31 L468.08,136.21 Z" fill="none" stroke="#D85550" stroke-width="0.95"/>
<path d="M472.02,130.97 L475.12,134.07 L472.02,137.17 L468.92,134.07 Z" fill="none" stroke="#D85550" stroke-width="0.95"/>
<path d="M472.86,131.23 L475.96,134.33 L472.86,137.43 L469.76,134.33 Z" fill="none" stroke="#D85550" stroke-width="0.95"/>
<path d="M473.70,131.49 L476.80,134.59 L473.70,137.69 L470.60,134.59 Z" fill="none" stroke="#D85550" stroke-width="0.95"/>
<path d="M474.54,129.34 L477.64,132.44 L474.54,135.54 L471.44,132.44 Z" fill="none" stroke="#D85550" stroke-width="0.95"/>
<path d="M475.38,129.60 L478.48,132.70 L475.38,135.80 L472.28,132.70 Z" fill="none" stroke="#D85550" stroke-width="0.95"/>
<path d="M476.24,129.91 L479.34,133.01 L476.24,136.11 L473.14,133.01 Z" fill="none" stroke="#D85550" stroke-width="0.95"/>
<path d="M477.18,127.94 L480.28,131.04 L477.18,134.14 L474.08,131.04 Z" fill="none" stroke="#D85550" stroke-width="0.95"/>
<path d="M478.11,128.38 L481.21,131.48 L478.11,134.58 L475.01,131.48 Z" fill="none" stroke="#D85550" stroke-width="0.95"/>
<path d="M479.04,128.82 L482.14,131.92 L479.04,135.02 L475.94,131.92 Z" fill="none" stroke="#D85550" stroke-width="0.95"/>
<path d="M479.97,126.86 L483.07,129.96 L479.97,133.06 L476.87,129.96 Z" fill="none" stroke="#D85550" stroke-width="0.95"/>
<path d="M480.91,127.30 L484.01,130.40 L480.91,133.50 L477.81,130.40 Z" fill="none" stroke="#D85550" stroke-width="0.95"/>
<path d="M481.84,127.74 L484.94,130.84 L481.84,133.94 L478.74,130.84 Z" fill="none" stroke="#D85550" stroke-width="0.95"/>
<path d="M482.77,125.78 L485.87,128.88 L482.77,131.98 L479.67,128.88 Z" fill="none" stroke="#D85550" stroke-width="0.95"/>
<path d="M483.70,126.22 L486.80,129.32 L483.70,132.42 L480.60,129.32 Z" fill="none" stroke="#D85550" stroke-width="0.95"/>
<path d="M484.67,126.79 L487.77,129.89 L484.67,132.99 L481.57,129.89 Z" fill="none" stroke="#D85550" stroke-width="0.95"/>
<path d="M485.66,125.02 L488.76,128.12 L485.66,131.22 L482.56,128.12 Z" fill="none" stroke="#D85550" stroke-width="0.95"/>
<path d="M486.64,125.65 L489.74,128.75 L486.64,131.85 L483.54,128.75 Z" fill="none" stroke="#D85550" stroke-width="0.95"/>
<path d="M487.63,126.28 L490.73,129.38 L487.63,132.48 L484.53,129.38 Z" fill="none" stroke="#D85550" stroke-width="0.95"/>
<path d="M488.61,124.51 L491.71,127.61 L488.61,130.71 L485.51,127.61 Z" fill="none" stroke="#D85550" stroke-width="0.95"/>
<path d="M489.60,125.14 L492.70,128.24 L489.60,131.34 L486.50,128.24 Z" fill="none" stroke="#D85550" stroke-width="0.95"/>
<path d="M490.59,125.77 L493.69,128.87 L490.59,131.97 L487.49,128.87 Z" fill="none" stroke="#D85550" stroke-width="0.95"/>
<path d="M491.57,124.00 L494.67,127.10 L491.57,130.20 L488.47,127.10 Z" fill="none" stroke="#D85550" stroke-width="0.95"/>
<path d="M492.56,124.97 L495.66,128.07 L492.56,131.17 L489.46,128.07 Z" fill="none" stroke="#D85550" stroke-width="0.95"/>
<path d="M493.54,125.95 L496.64,129.05 L493.54,132.15 L490.44,129.05 Z" fill="none" stroke="#D85550" stroke-width="0.95"/>
<path d="M494.52,124.52 L497.62,127.62 L494.52,130.72 L491.42,127.62 Z" fill="none" stroke="#D85550" stroke-width="0.95"/>
<path d="M495.51,125.51 L498.61,128.61 L495.51,131.71 L492.41,128.61 Z" fill="none" stroke="#D85550" stroke-width="0.95"/>
<path d="M496.23,126.99 L499.33,130.09 L496.23,133.19 L493.13,130.09 Z" fill="none" stroke="#D85550" stroke-width="0.95"/>
<path d="M496.96,126.08 L500.06,129.18 L496.96,132.28 L493.86,129.18 Z" fill="none" stroke="#D85550" stroke-width="0.95"/>
<path d="M497.69,127.56 L500.79,130.66 L497.69,133.76 L494.59,130.66 Z" fill="none" stroke="#D85550" stroke-width="0.95"/>
<path d="M498.42,129.05 L501.52,132.15 L498.42,135.25 L495.32,132.15 Z" fill="none" stroke="#D85550" stroke-width="0.95"/>
<path d="M499.11,128.17 L502.21,131.27 L499.11,134.37 L496.01,131.27 Z" fill="none" stroke="#D85550" stroke-width="0.95"/>
<path d="M499.65,129.81 L502.75,132.91 L499.65,136.01 L496.55,132.91 Z" fill="none" stroke="#D85550" stroke-width="0.95"/>
<path d="M500.19,131.45 L503.29,134.55 L500.19,137.65 L497.09,134.55 Z" fill="none" stroke="#D85550" stroke-width="0.95"/>
<path d="M500.73,130.69 L503.83,133.79 L500.73,136.89 L497.63,133.79 Z" fill="none" stroke="#D85550" stroke-width="0.95"/>
<path d="M408.00,165.80 L411.20,169.00 L408.00,172.20 L404.80,169.00 Z" fill="none" stroke="#D2453F" stroke-width="1.15"/>
<path d="M419.00,162.00 L422.20,165.20 L419.00,168.40 L415.80,165.20 Z" fill="none" stroke="#D2453F" stroke-width="1.15"/>
<path d="M430.20,158.00 L433.40,161.20 L430.20,164.40 L427.00,161.20 Z" fill="none" stroke="#D2453F" stroke-width="1.15"/>
<path d="M440.50,152.80 L443.70,156.00 L440.50,159.20 L437.30,156.00 Z" fill="none" stroke="#D2453F" stroke-width="1.15"/>
<path d="M450.60,148.40 L453.80,151.60 L450.60,154.80 L447.40,151.60 Z" fill="none" stroke="#D2453F" stroke-width="1.15"/>
<path d="M458.60,143.40 L461.80,146.60 L458.60,149.80 L455.40,146.60 Z" fill="none" stroke="#D2453F" stroke-width="1.15"/>
<path d="M464.40,139.00 L467.60,142.20 L464.40,145.40 L461.20,142.20 Z" fill="none" stroke="#D2453F" stroke-width="1.15"/>
<path d="M467.50,136.30 L470.70,139.50 L467.50,142.70 L464.30,139.50 Z" fill="none" stroke="#D2453F" stroke-width="1.15"/>
<path d="M502.50,136.80 L505.70,140.00 L502.50,143.20 L499.30,140.00 Z" fill="none" stroke="#D2453F" stroke-width="1.15"/>
<path d="M504.30,152.90 L507.50,156.10 L504.30,159.30 L501.10,156.10 Z" fill="none" stroke="#D2453F" stroke-width="1.15"/>
<path d="M468.40,120.60 L471.50,123.70 L468.40,126.80 L465.30,123.70 Z" fill="none" stroke="#A2C962" stroke-width="0.95"/>
<path d="M469.25,120.88 L472.35,123.98 L469.25,127.08 L466.15,123.98 Z" fill="none" stroke="#A2C962" stroke-width="0.95"/>
<path d="M470.10,121.15 L473.20,124.25 L470.10,127.35 L467.00,124.25 Z" fill="none" stroke="#A2C962" stroke-width="0.95"/>
<path d="M470.95,119.03 L474.05,122.13 L470.95,125.23 L467.85,122.13 Z" fill="none" stroke="#A2C962" stroke-width="0.95"/>
<path d="M471.81,119.30 L474.91,122.40 L471.81,125.50 L468.71,122.40 Z" fill="none" stroke="#A2C962" stroke-width="0.95"/>
<path d="M472.66,119.58 L475.76,122.68 L472.66,125.78 L469.56,122.68 Z" fill="none" stroke="#A2C962" stroke-width="0.95"/>
<path d="M473.51,117.46 L476.61,120.56 L473.51,123.66 L470.41,120.56 Z" fill="none" stroke="#A2C962" stroke-width="0.95"/>
<path d="M474.36,117.73 L477.46,120.83 L474.36,123.93 L471.26,120.83 Z" fill="none" stroke="#A2C962" stroke-width="0.95"/>
<path d="M475.25,118.08 L478.35,121.18 L475.25,124.28 L472.15,121.18 Z" fill="none" stroke="#A2C962" stroke-width="0.95"/>
<path d="M476.20,116.17 L479.30,119.27 L476.20,122.37 L473.10,119.27 Z" fill="none" stroke="#A2C962" stroke-width="0.95"/>
<path d="M477.15,116.65 L480.25,119.75 L477.15,122.85 L474.05,119.75 Z" fill="none" stroke="#A2C962" stroke-width="0.95"/>
<path d="M478.10,117.13 L481.20,120.23 L478.10,123.33 L475.00,120.23 Z" fill="none" stroke="#A2C962" stroke-width="0.95"/>
<path d="M479.04,115.22 L482.14,118.32 L479.04,121.42 L475.94,118.32 Z" fill="none" stroke="#A2C962" stroke-width="0.95"/>
<path d="M479.99,115.70 L483.09,118.80 L479.99,121.90 L476.89,118.80 Z" fill="none" stroke="#A2C962" stroke-width="0.95"/>
<path d="M480.94,116.19 L484.04,119.29 L480.94,122.39 L477.84,119.29 Z" fill="none" stroke="#A2C962" stroke-width="0.95"/>
<path d="M481.89,114.27 L484.99,117.37 L481.89,120.47 L478.79,117.37 Z" fill="none" stroke="#A2C962" stroke-width="0.95"/>
<path d="M482.84,114.75 L485.94,117.85 L482.84,120.95 L479.74,117.85 Z" fill="none" stroke="#A2C962" stroke-width="0.95"/>
<path d="M483.79,115.24 L486.89,118.34 L483.79,121.44 L480.69,118.34 Z" fill="none" stroke="#A2C962" stroke-width="0.95"/>
<path d="M484.74,113.32 L487.84,116.42 L484.74,119.52 L481.64,116.42 Z" fill="none" stroke="#A2C962" stroke-width="0.95"/>
<path d="M485.72,113.98 L488.82,117.08 L485.72,120.18 L482.62,117.08 Z" fill="none" stroke="#A2C962" stroke-width="0.95"/>
<path d="M486.72,114.65 L489.82,117.75 L486.72,120.85 L483.62,117.75 Z" fill="none" stroke="#A2C962" stroke-width="0.95"/>
<path d="M487.71,112.92 L490.81,116.02 L487.71,119.12 L484.61,116.02 Z" fill="none" stroke="#A2C962" stroke-width="0.95"/>
<path d="M488.70,113.58 L491.80,116.68 L488.70,119.78 L485.60,116.68 Z" fill="none" stroke="#A2C962" stroke-width="0.95"/>
<path d="M489.69,114.25 L492.79,117.35 L489.69,120.45 L486.59,117.35 Z" fill="none" stroke="#A2C962" stroke-width="0.95"/>
<path d="M490.68,112.52 L493.78,115.62 L490.68,118.72 L487.58,115.62 Z" fill="none" stroke="#A2C962" stroke-width="0.95"/>
<path d="M491.67,113.21 L494.77,116.31 L491.67,119.41 L488.57,116.31 Z" fill="none" stroke="#A2C962" stroke-width="0.95"/>
<path d="M492.67,114.11 L495.77,117.21 L492.67,120.31 L489.57,117.21 Z" fill="none" stroke="#A2C962" stroke-width="0.95"/>
<path d="M493.66,112.61 L496.76,115.71 L493.66,118.81 L490.56,115.71 Z" fill="none" stroke="#A2C962" stroke-width="0.95"/>
<path d="M494.66,113.51 L497.76,116.61 L494.66,119.71 L491.56,116.61 Z" fill="none" stroke="#A2C962" stroke-width="0.95"/>
<path d="M495.62,114.49 L498.72,117.59 L495.62,120.69 L492.52,117.59 Z" fill="none" stroke="#A2C962" stroke-width="0.95"/>
<path d="M496.44,113.47 L499.54,116.57 L496.44,119.67 L493.34,116.57 Z" fill="none" stroke="#A2C962" stroke-width="0.95"/>
<path d="M497.25,114.85 L500.35,117.95 L497.25,121.05 L494.15,117.95 Z" fill="none" stroke="#A2C962" stroke-width="0.95"/>
<path d="M498.07,116.23 L501.17,119.33 L498.07,122.43 L494.97,119.33 Z" fill="none" stroke="#A2C962" stroke-width="0.95"/>
<path d="M498.88,115.21 L501.98,118.31 L498.88,121.41 L495.78,118.31 Z" fill="none" stroke="#A2C962" stroke-width="0.95"/>
<path d="M499.49,116.79 L502.59,119.89 L499.49,122.99 L496.39,119.89 Z" fill="none" stroke="#A2C962" stroke-width="0.95"/>
<path d="M500.08,118.41 L503.18,121.51 L500.08,124.61 L496.98,121.51 Z" fill="none" stroke="#A2C962" stroke-width="0.95"/>
<path d="M500.66,117.62 L503.76,120.72 L500.66,123.82 L497.56,120.72 Z" fill="none" stroke="#A2C962" stroke-width="0.95"/>
<path d="M408.00,153.50 L411.20,156.70 L408.00,159.90 L404.80,156.70 Z" fill="none" stroke="#96C04E" stroke-width="1.15"/>
<path d="M418.80,148.40 L422.00,151.60 L418.80,154.80 L415.60,151.60 Z" fill="none" stroke="#96C04E" stroke-width="1.15"/>
<path d="M430.40,144.10 L433.60,147.30 L430.40,150.50 L427.20,147.30 Z" fill="none" stroke="#96C04E" stroke-width="1.15"/>
<path d="M440.50,139.00 L443.70,142.20 L440.50,145.40 L437.30,142.20 Z" fill="none" stroke="#96C04E" stroke-width="1.15"/>
<path d="M450.00,133.80 L453.20,137.00 L450.00,140.20 L446.80,137.00 Z" fill="none" stroke="#96C04E" stroke-width="1.15"/>
<path d="M458.20,129.10 L461.40,132.30 L458.20,135.50 L455.00,132.30 Z" fill="none" stroke="#96C04E" stroke-width="1.15"/>
<path d="M462.10,125.30 L465.30,128.50 L462.10,131.70 L458.90,128.50 Z" fill="none" stroke="#96C04E" stroke-width="1.15"/>
<path d="M465.30,123.10 L468.50,126.30 L465.30,129.50 L462.10,126.30 Z" fill="none" stroke="#96C04E" stroke-width="1.15"/>
<path d="M503.20,123.40 L506.40,126.60 L503.20,129.80 L500.00,126.60 Z" fill="none" stroke="#96C04E" stroke-width="1.15"/>
<path d="M503.80,130.80 L507.00,134.00 L503.80,137.20 L500.60,134.00 Z" fill="none" stroke="#96C04E" stroke-width="1.15"/>
<path d="M504.30,141.30 L507.50,144.50 L504.30,147.70 L501.10,144.50 Z" fill="none" stroke="#96C04E" stroke-width="1.15"/>
<path d="M470.50,108.10 L473.60,111.20 L470.50,114.30 L467.40,111.20 Z" fill="none" stroke="#9578C4" stroke-width="0.95"/>
<path d="M471.43,108.54 L474.53,111.64 L471.43,114.74 L468.33,111.64 Z" fill="none" stroke="#9578C4" stroke-width="0.95"/>
<path d="M472.36,108.97 L475.46,112.07 L472.36,115.17 L469.26,112.07 Z" fill="none" stroke="#9578C4" stroke-width="0.95"/>
<path d="M473.29,107.01 L476.39,110.11 L473.29,113.21 L470.19,110.11 Z" fill="none" stroke="#9578C4" stroke-width="0.95"/>
<path d="M474.23,107.44 L477.33,110.54 L474.23,113.64 L471.13,110.54 Z" fill="none" stroke="#9578C4" stroke-width="0.95"/>
<path d="M475.16,107.88 L478.26,110.98 L475.16,114.08 L472.06,110.98 Z" fill="none" stroke="#9578C4" stroke-width="0.95"/>
<path d="M476.09,105.92 L479.19,109.02 L476.09,112.12 L472.99,109.02 Z" fill="none" stroke="#9578C4" stroke-width="0.95"/>
<path d="M477.02,106.35 L480.12,109.45 L477.02,112.55 L473.92,109.45 Z" fill="none" stroke="#9578C4" stroke-width="0.95"/>
<path d="M477.94,106.76 L481.04,109.86 L477.94,112.96 L474.84,109.86 Z" fill="none" stroke="#9578C4" stroke-width="0.95"/>
<path d="M478.86,104.78 L481.96,107.88 L478.86,110.98 L475.76,107.88 Z" fill="none" stroke="#9578C4" stroke-width="0.95"/>
<path d="M479.79,105.19 L482.89,108.29 L479.79,111.39 L476.69,108.29 Z" fill="none" stroke="#9578C4" stroke-width="0.95"/>
<path d="M480.71,105.61 L483.81,108.71 L480.71,111.81 L477.61,108.71 Z" fill="none" stroke="#9578C4" stroke-width="0.95"/>
<path d="M481.63,103.62 L484.73,106.72 L481.63,109.82 L478.53,106.72 Z" fill="none" stroke="#9578C4" stroke-width="0.95"/>
<path d="M482.56,104.04 L485.66,107.14 L482.56,110.24 L479.46,107.14 Z" fill="none" stroke="#9578C4" stroke-width="0.95"/>
<path d="M483.48,104.45 L486.58,107.55 L483.48,110.65 L480.38,107.55 Z" fill="none" stroke="#9578C4" stroke-width="0.95"/>
<path d="M484.40,102.47 L487.50,105.57 L484.40,108.67 L481.30,105.57 Z" fill="none" stroke="#9578C4" stroke-width="0.95"/>
<path d="M485.35,102.98 L488.45,106.08 L485.35,109.18 L482.25,106.08 Z" fill="none" stroke="#9578C4" stroke-width="0.95"/>
<path d="M486.33,103.56 L489.43,106.66 L486.33,109.76 L483.23,106.66 Z" fill="none" stroke="#9578C4" stroke-width="0.95"/>
<path d="M487.31,101.75 L490.41,104.85 L487.31,107.95 L484.21,104.85 Z" fill="none" stroke="#9578C4" stroke-width="0.95"/>
<path d="M488.28,102.33 L491.38,105.43 L488.28,108.53 L485.18,105.43 Z" fill="none" stroke="#9578C4" stroke-width="0.95"/>
<path d="M489.26,102.92 L492.36,106.02 L489.26,109.12 L486.16,106.02 Z" fill="none" stroke="#9578C4" stroke-width="0.95"/>
<path d="M490.24,101.10 L493.34,104.20 L490.24,107.30 L487.14,104.20 Z" fill="none" stroke="#9578C4" stroke-width="0.95"/>
<path d="M491.21,101.69 L494.31,104.79 L491.21,107.89 L488.11,104.79 Z" fill="none" stroke="#9578C4" stroke-width="0.95"/>
<path d="M492.20,102.49 L495.30,105.59 L492.20,108.69 L489.10,105.59 Z" fill="none" stroke="#9578C4" stroke-width="0.95"/>
<path d="M493.19,101.03 L496.29,104.13 L493.19,107.23 L490.09,104.13 Z" fill="none" stroke="#9578C4" stroke-width="0.95"/>
<path d="M494.18,101.98 L497.28,105.08 L494.18,108.18 L491.08,105.08 Z" fill="none" stroke="#9578C4" stroke-width="0.95"/>
<path d="M495.14,103.00 L498.24,106.10 L495.14,109.20 L492.04,106.10 Z" fill="none" stroke="#9578C4" stroke-width="0.95"/>
<path d="M495.96,101.96 L499.06,105.06 L495.96,108.16 L492.86,105.06 Z" fill="none" stroke="#9578C4" stroke-width="0.95"/>
<path d="M496.78,103.33 L499.88,106.43 L496.78,109.53 L493.68,106.43 Z" fill="none" stroke="#9578C4" stroke-width="0.95"/>
<path d="M497.61,104.70 L500.71,107.80 L497.61,110.90 L494.51,107.80 Z" fill="none" stroke="#9578C4" stroke-width="0.95"/>
<path d="M498.29,103.82 L501.39,106.92 L498.29,110.02 L495.19,106.92 Z" fill="none" stroke="#9578C4" stroke-width="0.95"/>
<path d="M498.89,105.42 L501.99,108.52 L498.89,111.62 L495.79,108.52 Z" fill="none" stroke="#9578C4" stroke-width="0.95"/>
<path d="M499.49,107.02 L502.59,110.12 L499.49,113.22 L496.39,110.12 Z" fill="none" stroke="#9578C4" stroke-width="0.95"/>
<path d="M408.00,138.30 L411.20,141.50 L408.00,144.70 L404.80,141.50 Z" fill="none" stroke="#8A66BC" stroke-width="1.15"/>
<path d="M418.80,135.40 L422.00,138.60 L418.80,141.80 L415.60,138.60 Z" fill="none" stroke="#8A66BC" stroke-width="1.15"/>
<path d="M429.70,132.30 L432.90,135.50 L429.70,138.70 L426.50,135.50 Z" fill="none" stroke="#8A66BC" stroke-width="1.15"/>
<path d="M440.40,128.10 L443.60,131.30 L440.40,134.50 L437.20,131.30 Z" fill="none" stroke="#8A66BC" stroke-width="1.15"/>
<path d="M450.00,123.30 L453.20,126.50 L450.00,129.70 L446.80,126.50 Z" fill="none" stroke="#8A66BC" stroke-width="1.15"/>
<path d="M458.20,118.40 L461.40,121.60 L458.20,124.80 L455.00,121.60 Z" fill="none" stroke="#8A66BC" stroke-width="1.15"/>
<path d="M463.20,113.60 L466.40,116.80 L463.20,120.00 L460.00,116.80 Z" fill="none" stroke="#8A66BC" stroke-width="1.15"/>
<path d="M467.40,111.10 L470.60,114.30 L467.40,117.50 L464.20,114.30 Z" fill="none" stroke="#8A66BC" stroke-width="1.15"/>
<path d="M502.20,111.80 L505.40,115.00 L502.20,118.20 L499.00,115.00 Z" fill="none" stroke="#8A66BC" stroke-width="1.15"/>
<path d="M503.40,118.30 L506.60,121.50 L503.40,124.70 L500.20,121.50 Z" fill="none" stroke="#8A66BC" stroke-width="1.15"/>
<path d="M504.30,129.70 L507.50,132.90 L504.30,136.10 L501.10,132.90 Z" fill="none" stroke="#8A66BC" stroke-width="1.15"/>
<path d="M322.50,180.00 C324.58,180.55 330.42,182.48 335.00,183.30 C339.58,184.12 345.00,184.58 350.00,184.90 C355.00,185.22 360.00,185.28 365.00,185.20 C370.00,185.12 374.17,185.25 380.00,184.40 C385.83,183.55 393.33,181.50 400.00,180.10 C406.67,178.70 413.33,178.27 420.00,176.00 C426.67,173.73 435.00,168.95 440.00,166.50 C445.00,164.05 446.67,163.17 450.00,161.30 C453.33,159.43 456.67,157.43 460.00,155.30 C463.33,153.17 466.67,150.53 470.00,148.50 C473.33,146.47 477.17,144.52 480.00,143.10 C482.83,141.68 484.83,140.52 487.00,140.00 C489.17,139.48 491.00,139.33 493.00,140.00 C495.00,140.67 496.53,142.50 499.00,144.00 C501.47,145.50 505.22,147.42 507.80,149.00 C510.38,150.58 512.27,151.63 514.50,153.50 C516.73,155.37 519.53,158.17 521.20,160.20 C522.87,162.23 523.78,164.33 524.50,165.70 C525.22,167.07 525.33,167.95 525.50,168.40" fill="none" stroke="#3B6FC2" stroke-width="1.4" stroke-linejoin="round"/>
<path d="M322.50,169.60 C324.58,170.00 330.42,171.37 335.00,172.00 C339.58,172.63 345.00,173.13 350.00,173.40 C355.00,173.67 360.00,173.73 365.00,173.60 C370.00,173.47 374.17,173.60 380.00,172.60 C385.83,171.60 393.33,169.17 400.00,167.60 C406.67,166.03 413.33,164.87 420.00,163.20 C426.67,161.53 435.00,159.72 440.00,157.60 C445.00,155.48 446.67,152.77 450.00,150.50 C453.33,148.23 456.67,146.08 460.00,144.00 C463.33,141.92 466.67,140.00 470.00,138.00 C473.33,136.00 476.67,133.75 480.00,132.00 C483.33,130.25 487.33,128.33 490.00,127.50 C492.67,126.67 494.00,126.42 496.00,127.00 C498.00,127.58 500.03,129.37 502.00,131.00 C503.97,132.63 505.72,135.10 507.80,136.80 C509.88,138.50 512.27,139.35 514.50,141.20 C516.73,143.05 519.53,145.85 521.20,147.90 C522.87,149.95 523.78,152.08 524.50,153.50 C525.22,154.92 525.33,155.92 525.50,156.40" fill="none" stroke="#C3322B" stroke-width="1.4" stroke-linejoin="round"/>
<path d="M322.50,155.70 C324.58,156.33 330.42,158.55 335.00,159.50 C339.58,160.45 345.00,161.08 350.00,161.40 C355.00,161.72 360.00,161.60 365.00,161.40 C370.00,161.20 374.17,161.17 380.00,160.20 C385.83,159.23 393.33,157.23 400.00,155.60 C406.67,153.97 413.33,152.47 420.00,150.40 C426.67,148.33 435.00,145.47 440.00,143.20 C445.00,140.93 446.67,138.75 450.00,136.80 C453.33,134.85 456.67,133.30 460.00,131.50 C463.33,129.70 466.67,128.00 470.00,126.00 C473.33,124.00 476.67,121.23 480.00,119.50 C483.33,117.77 487.33,116.43 490.00,115.60 C492.67,114.77 494.33,114.43 496.00,114.50 C497.67,114.57 498.03,114.52 500.00,116.00 C501.97,117.48 505.38,121.42 507.80,123.40 C510.22,125.38 512.27,126.03 514.50,127.90 C516.73,129.77 519.53,132.38 521.20,134.60 C522.87,136.82 523.83,139.72 524.50,141.20 C525.17,142.68 525.08,143.12 525.20,143.50" fill="none" stroke="#7DB233" stroke-width="1.4" stroke-linejoin="round"/>
<path d="M322.50,142.50 C324.58,143.12 330.42,145.23 335.00,146.20 C339.58,147.17 345.00,147.90 350.00,148.30 C355.00,148.70 360.00,148.72 365.00,148.60 C370.00,148.48 374.17,148.57 380.00,147.60 C385.83,146.63 394.17,144.23 400.00,142.80 C405.83,141.37 410.00,140.47 415.00,139.00 C420.00,137.53 425.83,135.67 430.00,134.00 C434.17,132.33 436.67,131.00 440.00,129.00 C443.33,127.00 446.67,124.33 450.00,122.00 C453.33,119.67 456.67,117.12 460.00,115.00 C463.33,112.88 466.67,111.02 470.00,109.30 C473.33,107.58 476.67,105.88 480.00,104.70 C483.33,103.52 487.50,102.65 490.00,102.20 C492.50,101.75 493.33,101.80 495.00,102.00 C496.67,102.20 497.87,102.25 500.00,103.40 C502.13,104.55 505.38,107.42 507.80,108.90 C510.22,110.38 512.27,110.82 514.50,112.30 C516.73,113.78 519.53,115.58 521.20,117.80 C522.87,120.02 523.83,123.37 524.50,125.60 C525.17,127.83 525.08,130.27 525.20,131.20" fill="none" stroke="#7048A2" stroke-width="1.4" stroke-linejoin="round"/>
<text x="59.0" y="91.6" font-size="12.2" font-weight="bold" fill="#111" text-anchor="start" stroke="#111" stroke-width="0.35">V</text>
<text x="67.6" y="94.89999999999999" font-size="8.0" font-weight="bold" fill="#111" text-anchor="start" stroke="#111" stroke-width="0.35">g</text>
<text x="76.0" y="91.6" font-size="12.2" font-weight="bold" fill="#111" text-anchor="start" textLength="6.6" lengthAdjust="spacingAndGlyphs" stroke="#111" stroke-width="0.35">&lt;</text>
<text x="85.2" y="91.6" font-size="12.2" font-weight="bold" fill="#111" text-anchor="start" stroke="#111" stroke-width="0.35">V</text>
<text x="95.0" y="94.89999999999999" font-size="8.0" font-weight="bold" fill="#111" text-anchor="start" stroke="#111" stroke-width="0.35">d</text>
<text x="332.4" y="92.0" font-size="12.2" font-weight="bold" fill="#111" text-anchor="start" stroke="#111" stroke-width="0.35">V</text>
<text x="341.1" y="95.3" font-size="8.0" font-weight="bold" fill="#111" text-anchor="start" stroke="#111" stroke-width="0.35">g</text>
<text x="348.9" y="92.0" font-size="12.2" font-weight="bold" fill="#111" text-anchor="start" textLength="6.6" lengthAdjust="spacingAndGlyphs" stroke="#111" stroke-width="0.35">&gt;</text>
<text x="359.8" y="92.0" font-size="12.2" font-weight="bold" fill="#111" text-anchor="start" stroke="#111" stroke-width="0.35">V</text>
<text x="368.4" y="95.3" font-size="8.0" font-weight="bold" fill="#111" text-anchor="start" stroke="#111" stroke-width="0.35">d</text>
<text x="72.4" y="119.2" font-size="12.8" font-weight="normal" fill="#111" text-anchor="start" stroke="#111" stroke-width="0.35">t</text>
<text x="76.0" y="121.7" font-size="9.6" font-weight="bold" fill="#1a1a1a" text-anchor="start" textLength="22.0" lengthAdjust="spacingAndGlyphs" >stress</text>
<text x="353.5" y="117.1" font-size="12.8" font-weight="normal" fill="#111" text-anchor="start" stroke="#111" stroke-width="0.35">t</text>
<text x="356.8" y="119.8" font-size="9.6" font-weight="bold" fill="#1a1a1a" text-anchor="start" textLength="22.0" lengthAdjust="spacingAndGlyphs" >stress</text>
<line x1="123.6" y1="196.0" x2="91.6" y2="130.5" stroke="#000" stroke-width="1.6"/>
<path d="M91.36,137.50 L91.6,130.5 L97.27,134.61" fill="none" stroke="#000" stroke-width="1.6" stroke-linejoin="miter"/>
<line x1="404.4" y1="194.2" x2="372.0" y2="129.0" stroke="#000" stroke-width="1.6"/>
<path d="M371.81,136.00 L372.0,129.0 L377.69,133.07" fill="none" stroke="#000" stroke-width="1.6" stroke-linejoin="miter"/>
<rect x="47.6" y="243.8" width="210.9" height="132.5" fill="none" stroke="#C4C4C4" stroke-width="1"/>
<line x1="68.76" y1="376.3" x2="68.76" y2="374.1" stroke="#C4C4C4" stroke-width="0.8"/>
<line x1="81.14" y1="376.3" x2="81.14" y2="374.1" stroke="#C4C4C4" stroke-width="0.8"/>
<line x1="89.92" y1="376.3" x2="89.92" y2="374.1" stroke="#C4C4C4" stroke-width="0.8"/>
<line x1="96.74" y1="376.3" x2="96.74" y2="374.1" stroke="#C4C4C4" stroke-width="0.8"/>
<line x1="102.30" y1="376.3" x2="102.30" y2="374.1" stroke="#C4C4C4" stroke-width="0.8"/>
<line x1="107.01" y1="376.3" x2="107.01" y2="374.1" stroke="#C4C4C4" stroke-width="0.8"/>
<line x1="111.09" y1="376.3" x2="111.09" y2="374.1" stroke="#C4C4C4" stroke-width="0.8"/>
<line x1="114.68" y1="376.3" x2="114.68" y2="374.1" stroke="#C4C4C4" stroke-width="0.8"/>
<line x1="139.06" y1="376.3" x2="139.06" y2="374.1" stroke="#C4C4C4" stroke-width="0.8"/>
<line x1="151.44" y1="376.3" x2="151.44" y2="374.1" stroke="#C4C4C4" stroke-width="0.8"/>
<line x1="160.22" y1="376.3" x2="160.22" y2="374.1" stroke="#C4C4C4" stroke-width="0.8"/>
<line x1="167.04" y1="376.3" x2="167.04" y2="374.1" stroke="#C4C4C4" stroke-width="0.8"/>
<line x1="172.60" y1="376.3" x2="172.60" y2="374.1" stroke="#C4C4C4" stroke-width="0.8"/>
<line x1="177.31" y1="376.3" x2="177.31" y2="374.1" stroke="#C4C4C4" stroke-width="0.8"/>
<line x1="181.39" y1="376.3" x2="181.39" y2="374.1" stroke="#C4C4C4" stroke-width="0.8"/>
<line x1="184.98" y1="376.3" x2="184.98" y2="374.1" stroke="#C4C4C4" stroke-width="0.8"/>
<line x1="209.36" y1="376.3" x2="209.36" y2="374.1" stroke="#C4C4C4" stroke-width="0.8"/>
<line x1="221.74" y1="376.3" x2="221.74" y2="374.1" stroke="#C4C4C4" stroke-width="0.8"/>
<line x1="230.52" y1="376.3" x2="230.52" y2="374.1" stroke="#C4C4C4" stroke-width="0.8"/>
<line x1="237.34" y1="376.3" x2="237.34" y2="374.1" stroke="#C4C4C4" stroke-width="0.8"/>
<line x1="242.90" y1="376.3" x2="242.90" y2="374.1" stroke="#C4C4C4" stroke-width="0.8"/>
<line x1="247.61" y1="376.3" x2="247.61" y2="374.1" stroke="#C4C4C4" stroke-width="0.8"/>
<line x1="251.69" y1="376.3" x2="251.69" y2="374.1" stroke="#C4C4C4" stroke-width="0.8"/>
<line x1="255.28" y1="376.3" x2="255.28" y2="374.1" stroke="#C4C4C4" stroke-width="0.8"/>
<line x1="117.90" y1="376.3" x2="117.90" y2="372.8" stroke="#C4C4C4" stroke-width="1"/>
<line x1="188.20" y1="376.3" x2="188.20" y2="372.8" stroke="#C4C4C4" stroke-width="1"/>
<line x1="47.6" y1="273.95" x2="49.800000000000004" y2="273.95" stroke="#C4C4C4" stroke-width="0.8"/>
<line x1="47.6" y1="265.68" x2="49.800000000000004" y2="265.68" stroke="#C4C4C4" stroke-width="0.8"/>
<line x1="47.6" y1="259.80" x2="49.800000000000004" y2="259.80" stroke="#C4C4C4" stroke-width="0.8"/>
<line x1="47.6" y1="255.25" x2="49.800000000000004" y2="255.25" stroke="#C4C4C4" stroke-width="0.8"/>
<line x1="47.6" y1="251.53" x2="49.800000000000004" y2="251.53" stroke="#C4C4C4" stroke-width="0.8"/>
<line x1="47.6" y1="248.38" x2="49.800000000000004" y2="248.38" stroke="#C4C4C4" stroke-width="0.8"/>
<line x1="47.6" y1="245.65" x2="49.800000000000004" y2="245.65" stroke="#C4C4C4" stroke-width="0.8"/>
<line x1="47.6" y1="288.10" x2="51.1" y2="288.10" stroke="#C4C4C4" stroke-width="1"/>
<line x1="47.6" y1="320.95" x2="49.800000000000004" y2="320.95" stroke="#C4C4C4" stroke-width="0.8"/>
<line x1="47.6" y1="312.68" x2="49.800000000000004" y2="312.68" stroke="#C4C4C4" stroke-width="0.8"/>
<line x1="47.6" y1="306.80" x2="49.800000000000004" y2="306.80" stroke="#C4C4C4" stroke-width="0.8"/>
<line x1="47.6" y1="302.25" x2="49.800000000000004" y2="302.25" stroke="#C4C4C4" stroke-width="0.8"/>
<line x1="47.6" y1="298.53" x2="49.800000000000004" y2="298.53" stroke="#C4C4C4" stroke-width="0.8"/>
<line x1="47.6" y1="295.38" x2="49.800000000000004" y2="295.38" stroke="#C4C4C4" stroke-width="0.8"/>
<line x1="47.6" y1="292.65" x2="49.800000000000004" y2="292.65" stroke="#C4C4C4" stroke-width="0.8"/>
<line x1="47.6" y1="290.25" x2="49.800000000000004" y2="290.25" stroke="#C4C4C4" stroke-width="0.8"/>
<line x1="47.6" y1="335.10" x2="51.1" y2="335.10" stroke="#C4C4C4" stroke-width="1"/>
<line x1="47.6" y1="367.95" x2="49.800000000000004" y2="367.95" stroke="#C4C4C4" stroke-width="0.8"/>
<line x1="47.6" y1="359.68" x2="49.800000000000004" y2="359.68" stroke="#C4C4C4" stroke-width="0.8"/>
<line x1="47.6" y1="353.80" x2="49.800000000000004" y2="353.80" stroke="#C4C4C4" stroke-width="0.8"/>
<line x1="47.6" y1="349.25" x2="49.800000000000004" y2="349.25" stroke="#C4C4C4" stroke-width="0.8"/>
<line x1="47.6" y1="345.53" x2="49.800000000000004" y2="345.53" stroke="#C4C4C4" stroke-width="0.8"/>
<line x1="47.6" y1="342.38" x2="49.800000000000004" y2="342.38" stroke="#C4C4C4" stroke-width="0.8"/>
<line x1="47.6" y1="339.65" x2="49.800000000000004" y2="339.65" stroke="#C4C4C4" stroke-width="0.8"/>
<line x1="47.6" y1="337.25" x2="49.800000000000004" y2="337.25" stroke="#C4C4C4" stroke-width="0.8"/>
<text x="47.3" y="389.9" font-size="9.9" font-weight="normal" fill="#333" text-anchor="middle" textLength="3.8" lengthAdjust="spacingAndGlyphs" >1</text>
<text x="117.9" y="389.9" font-size="9.9" font-weight="normal" fill="#333" text-anchor="middle" textLength="8.8" lengthAdjust="spacingAndGlyphs" >10</text>
<text x="188.1" y="389.9" font-size="9.9" font-weight="normal" fill="#333" text-anchor="middle" textLength="13.2" lengthAdjust="spacingAndGlyphs" >100</text>
<text x="258.9" y="389.9" font-size="9.9" font-weight="normal" fill="#333" text-anchor="middle" textLength="18.0" lengthAdjust="spacingAndGlyphs" >1000</text>
<text x="121.7" y="399.6" font-size="10.2" font-weight="bold" fill="#1a1a1a" text-anchor="start" textLength="62.4" lengthAdjust="spacingAndGlyphs" stroke="#1a1a1a" stroke-width="0.2">stress time (s)</text>
<text transform="translate(31.0,368.4) rotate(-90)" font-size="10.4" font-weight="bold" fill="#1a1a1a" stroke="#1a1a1a" stroke-width="0.2" textLength="113.5" lengthAdjust="spacingAndGlyphs">relative Vth change (a.u.)</text>
<rect x="321.2" y="244.2" width="220.3" height="131.8" fill="none" stroke="#C4C4C4" stroke-width="1"/>
<line x1="343.31" y1="376.0" x2="343.31" y2="373.8" stroke="#C4C4C4" stroke-width="0.8"/>
<line x1="356.24" y1="376.0" x2="356.24" y2="373.8" stroke="#C4C4C4" stroke-width="0.8"/>
<line x1="365.41" y1="376.0" x2="365.41" y2="373.8" stroke="#C4C4C4" stroke-width="0.8"/>
<line x1="372.53" y1="376.0" x2="372.53" y2="373.8" stroke="#C4C4C4" stroke-width="0.8"/>
<line x1="378.34" y1="376.0" x2="378.34" y2="373.8" stroke="#C4C4C4" stroke-width="0.8"/>
<line x1="383.26" y1="376.0" x2="383.26" y2="373.8" stroke="#C4C4C4" stroke-width="0.8"/>
<line x1="387.52" y1="376.0" x2="387.52" y2="373.8" stroke="#C4C4C4" stroke-width="0.8"/>
<line x1="391.27" y1="376.0" x2="391.27" y2="373.8" stroke="#C4C4C4" stroke-width="0.8"/>
<line x1="416.74" y1="376.0" x2="416.74" y2="373.8" stroke="#C4C4C4" stroke-width="0.8"/>
<line x1="429.67" y1="376.0" x2="429.67" y2="373.8" stroke="#C4C4C4" stroke-width="0.8"/>
<line x1="438.84" y1="376.0" x2="438.84" y2="373.8" stroke="#C4C4C4" stroke-width="0.8"/>
<line x1="445.96" y1="376.0" x2="445.96" y2="373.8" stroke="#C4C4C4" stroke-width="0.8"/>
<line x1="451.78" y1="376.0" x2="451.78" y2="373.8" stroke="#C4C4C4" stroke-width="0.8"/>
<line x1="456.69" y1="376.0" x2="456.69" y2="373.8" stroke="#C4C4C4" stroke-width="0.8"/>
<line x1="460.95" y1="376.0" x2="460.95" y2="373.8" stroke="#C4C4C4" stroke-width="0.8"/>
<line x1="464.71" y1="376.0" x2="464.71" y2="373.8" stroke="#C4C4C4" stroke-width="0.8"/>
<line x1="490.17" y1="376.0" x2="490.17" y2="373.8" stroke="#C4C4C4" stroke-width="0.8"/>
<line x1="503.10" y1="376.0" x2="503.10" y2="373.8" stroke="#C4C4C4" stroke-width="0.8"/>
<line x1="512.28" y1="376.0" x2="512.28" y2="373.8" stroke="#C4C4C4" stroke-width="0.8"/>
<line x1="519.39" y1="376.0" x2="519.39" y2="373.8" stroke="#C4C4C4" stroke-width="0.8"/>
<line x1="525.21" y1="376.0" x2="525.21" y2="373.8" stroke="#C4C4C4" stroke-width="0.8"/>
<line x1="530.13" y1="376.0" x2="530.13" y2="373.8" stroke="#C4C4C4" stroke-width="0.8"/>
<line x1="534.38" y1="376.0" x2="534.38" y2="373.8" stroke="#C4C4C4" stroke-width="0.8"/>
<line x1="538.14" y1="376.0" x2="538.14" y2="373.8" stroke="#C4C4C4" stroke-width="0.8"/>
<line x1="394.63" y1="376.0" x2="394.63" y2="372.5" stroke="#C4C4C4" stroke-width="1"/>
<line x1="468.07" y1="376.0" x2="468.07" y2="372.5" stroke="#C4C4C4" stroke-width="1"/>
<line x1="321.2" y1="261.10" x2="324.7" y2="261.10" stroke="#C4C4C4" stroke-width="1"/>
<line x1="321.2" y1="301.64" x2="323.4" y2="301.64" stroke="#C4C4C4" stroke-width="0.8"/>
<line x1="321.2" y1="291.43" x2="323.4" y2="291.43" stroke="#C4C4C4" stroke-width="0.8"/>
<line x1="321.2" y1="284.18" x2="323.4" y2="284.18" stroke="#C4C4C4" stroke-width="0.8"/>
<line x1="321.2" y1="278.56" x2="323.4" y2="278.56" stroke="#C4C4C4" stroke-width="0.8"/>
<line x1="321.2" y1="273.97" x2="323.4" y2="273.97" stroke="#C4C4C4" stroke-width="0.8"/>
<line x1="321.2" y1="270.08" x2="323.4" y2="270.08" stroke="#C4C4C4" stroke-width="0.8"/>
<line x1="321.2" y1="266.72" x2="323.4" y2="266.72" stroke="#C4C4C4" stroke-width="0.8"/>
<line x1="321.2" y1="263.75" x2="323.4" y2="263.75" stroke="#C4C4C4" stroke-width="0.8"/>
<line x1="321.2" y1="319.10" x2="324.7" y2="319.10" stroke="#C4C4C4" stroke-width="1"/>
<line x1="321.2" y1="359.64" x2="323.4" y2="359.64" stroke="#C4C4C4" stroke-width="0.8"/>
<line x1="321.2" y1="349.43" x2="323.4" y2="349.43" stroke="#C4C4C4" stroke-width="0.8"/>
<line x1="321.2" y1="342.18" x2="323.4" y2="342.18" stroke="#C4C4C4" stroke-width="0.8"/>
<line x1="321.2" y1="336.56" x2="323.4" y2="336.56" stroke="#C4C4C4" stroke-width="0.8"/>
<line x1="321.2" y1="331.97" x2="323.4" y2="331.97" stroke="#C4C4C4" stroke-width="0.8"/>
<line x1="321.2" y1="328.08" x2="323.4" y2="328.08" stroke="#C4C4C4" stroke-width="0.8"/>
<line x1="321.2" y1="324.72" x2="323.4" y2="324.72" stroke="#C4C4C4" stroke-width="0.8"/>
<line x1="321.2" y1="321.75" x2="323.4" y2="321.75" stroke="#C4C4C4" stroke-width="0.8"/>
<text x="321.0" y="389.9" font-size="9.9" font-weight="normal" fill="#333" text-anchor="middle" textLength="3.8" lengthAdjust="spacingAndGlyphs" >1</text>
<text x="394.9" y="389.9" font-size="9.9" font-weight="normal" fill="#333" text-anchor="middle" textLength="8.8" lengthAdjust="spacingAndGlyphs" >10</text>
<text x="468.4" y="389.9" font-size="9.9" font-weight="normal" fill="#333" text-anchor="middle" textLength="13.2" lengthAdjust="spacingAndGlyphs" >100</text>
<text x="541.6" y="389.9" font-size="9.9" font-weight="normal" fill="#333" text-anchor="middle" textLength="18.0" lengthAdjust="spacingAndGlyphs" >1000</text>
<text x="399.8" y="399.6" font-size="10.2" font-weight="bold" fill="#1a1a1a" text-anchor="start" textLength="63.0" lengthAdjust="spacingAndGlyphs" stroke="#1a1a1a" stroke-width="0.2">stress time (s)</text>
<text transform="translate(311.2,366.6) rotate(-90)" font-size="10.4" font-weight="bold" fill="#1a1a1a" stroke="#1a1a1a" stroke-width="0.2" textLength="114.7" lengthAdjust="spacingAndGlyphs">relative Gm change (a.u.)</text>
<path d="M47.60,310.80 L117.90,301.90 L258.50,257.60" fill="none" stroke="#2F6DB6" stroke-width="1.5"/>
<path d="M47.60,323.70 C53.33,321.78 70.28,316.05 82.00,312.20 C93.72,308.35 106.57,304.40 117.90,300.60 C129.23,296.80 138.82,293.40 150.00,289.40 C161.18,285.40 173.33,280.53 185.00,276.60 C196.67,272.67 207.75,268.97 220.00,265.80 C232.25,262.63 252.08,258.97 258.50,257.60" fill="none" stroke="#2F6DB6" stroke-width="1.5" stroke-dasharray="4.2,2.6"/>
<path d="M47.60,335.60 L258.50,270.50" fill="none" stroke="#E5261C" stroke-width="1.7"/>
<path d="M47.60,349.50 C54.67,347.17 76.27,340.07 90.00,335.50 C103.73,330.93 119.43,325.52 130.00,322.10 C140.57,318.68 145.07,317.52 153.40,315.00 C161.73,312.48 171.30,309.57 180.00,307.00 C188.70,304.43 197.27,301.88 205.60,299.60 C213.93,297.32 221.18,295.33 230.00,293.30 C238.82,291.27 253.75,288.38 258.50,287.40" fill="none" stroke="#E5261C" stroke-width="1.7" stroke-dasharray="4.2,2.6"/>
<path d="M47.60,320.30 L51.00,323.70 L47.60,327.10 L44.20,323.70 Z" fill="none" stroke="#2F6DB6" stroke-width="1.4"/>
<path d="M117.90,303.50 L121.30,306.90 L117.90,310.30 L114.50,306.90 Z" fill="none" stroke="#2F6DB6" stroke-width="1.4"/>
<path d="M187.80,277.90 L191.20,281.30 L187.80,284.70 L184.40,281.30 Z" fill="none" stroke="#2F6DB6" stroke-width="1.4"/>
<path d="M258.50,248.70 L261.90,252.10 L258.50,255.50 L255.10,252.10 Z" fill="none" stroke="#2F6DB6" stroke-width="1.4"/>
<path d="M117.90,320.80 L121.30,324.20 L117.90,327.60 L114.50,324.20 Z" fill="none" stroke="#E5261C" stroke-width="1.5"/>
<path d="M187.80,289.10 L191.20,292.50 L187.80,295.90 L184.40,292.50 Z" fill="none" stroke="#E5261C" stroke-width="1.5"/>
<path d="M258.50,276.50 L261.90,279.90 L258.50,283.30 L255.10,279.90 Z" fill="none" stroke="#E5261C" stroke-width="1.5"/>
<path d="M321.20,324.80 L394.70,306.00 L541.50,250.90" fill="none" stroke="#2F6DB6" stroke-width="1.5"/>
<path d="M321.20,344.70 C327.33,341.67 345.75,332.37 358.00,326.50 C370.25,320.63 382.53,315.00 394.70,309.50 C406.87,304.00 418.78,298.48 431.00,293.50 C443.22,288.52 455.67,284.02 468.00,279.60 C480.33,275.18 492.75,270.88 505.00,267.00 C517.25,263.12 535.42,258.08 541.50,256.30" fill="none" stroke="#2F6DB6" stroke-width="1.5" stroke-dasharray="4.2,2.6"/>
<path d="M321.20,360.80 L541.50,278.70" fill="none" stroke="#E5261C" stroke-width="1.7"/>
<path d="M321.20,366.20 C326.00,363.92 339.78,357.28 350.00,352.50 C360.22,347.72 370.83,342.67 382.50,337.50 C394.17,332.33 405.75,327.42 420.00,321.50 C434.25,315.58 453.83,307.33 468.00,302.00 C482.17,296.67 492.75,293.17 505.00,289.50 C517.25,285.83 535.42,281.58 541.50,280.00" fill="none" stroke="#E5261C" stroke-width="1.7" stroke-dasharray="4.2,2.6"/>
<path d="M321.20,327.20 L324.60,330.60 L321.20,334.00 L317.80,330.60 Z" fill="none" stroke="#2F6DB6" stroke-width="1.4"/>
<path d="M394.90,303.70 L398.30,307.10 L394.90,310.50 L391.50,307.10 Z" fill="none" stroke="#2F6DB6" stroke-width="1.4"/>
<path d="M467.80,275.90 L471.20,279.30 L467.80,282.70 L464.40,279.30 Z" fill="none" stroke="#2F6DB6" stroke-width="1.4"/>
<path d="M541.50,257.00 L544.90,260.40 L541.50,263.80 L538.10,260.40 Z" fill="none" stroke="#2F6DB6" stroke-width="1.4"/>
<path d="M321.20,360.60 L324.60,364.00 L321.20,367.40 L317.80,364.00 Z" fill="none" stroke="#E5261C" stroke-width="1.5"/>
<path d="M394.70,321.90 L398.10,325.30 L394.70,328.70 L391.30,325.30 Z" fill="none" stroke="#E5261C" stroke-width="1.5"/>
<path d="M467.80,299.20 L471.20,302.60 L467.80,306.00 L464.40,302.60 Z" fill="none" stroke="#E5261C" stroke-width="1.5"/>
<path d="M541.50,275.30 L544.90,278.70 L541.50,282.10 L538.10,278.70 Z" fill="none" stroke="#E5261C" stroke-width="1.5"/>
<line x1="107.8" y1="271.4" x2="149.0" y2="287.4" stroke="#2F6DB6" stroke-width="1.3"/>
<path d="M145.39,282.00 L149.0,287.4 L142.69,288.95" fill="none" stroke="#2F6DB6" stroke-width="1.3" stroke-linejoin="miter"/>
<line x1="186.0" y1="338.4" x2="140.3" y2="320.9" stroke="#E5261C" stroke-width="1.6"/>
<path d="M143.94,326.29 L140.3,320.9 L146.61,319.32" fill="none" stroke="#E5261C" stroke-width="1.6" stroke-linejoin="miter"/>
<line x1="389.3" y1="273.4" x2="430.9" y2="289.7" stroke="#2F6DB6" stroke-width="1.3"/>
<path d="M427.30,284.29 L430.9,289.7 L424.58,291.23" fill="none" stroke="#2F6DB6" stroke-width="1.3" stroke-linejoin="miter"/>
<line x1="467.5" y1="341.4" x2="422.2" y2="322.0" stroke="#E5261C" stroke-width="1.6"/>
<path d="M425.63,327.52 L422.2,322.0 L428.56,320.67" fill="none" stroke="#E5261C" stroke-width="1.6" stroke-linejoin="miter"/>
<text x="64.5" y="266.9" font-size="12.2" font-weight="bold" fill="#2F6DB6" text-anchor="start" stroke="#2F6DB6" stroke-width="0.35">V</text>
<text x="72.9" y="270.2" font-size="8.4" font-weight="bold" fill="#2F6DB6" text-anchor="start" stroke="#2F6DB6" stroke-width="0.35">g</text>
<text x="81.5" y="266.9" font-size="12.2" font-weight="bold" fill="#2F6DB6" text-anchor="start" textLength="6.8" lengthAdjust="spacingAndGlyphs" stroke="#2F6DB6" stroke-width="0.35">&gt;</text>
<text x="91.8" y="266.9" font-size="12.2" font-weight="bold" fill="#2F6DB6" text-anchor="start" stroke="#2F6DB6" stroke-width="0.35">V</text>
<text x="100.3" y="270.2" font-size="8.4" font-weight="bold" fill="#2F6DB6" text-anchor="start" stroke="#2F6DB6" stroke-width="0.35">d</text>
<text x="192.2" y="339.9" font-size="12.2" font-weight="bold" fill="#E5261C" text-anchor="start" stroke="#E5261C" stroke-width="0.35">V</text>
<text x="200.7" y="343.2" font-size="8.4" font-weight="bold" fill="#E5261C" text-anchor="start" stroke="#E5261C" stroke-width="0.35">g</text>
<text x="209.3" y="339.9" font-size="12.2" font-weight="bold" fill="#E5261C" text-anchor="start" textLength="6.6" lengthAdjust="spacingAndGlyphs" stroke="#E5261C" stroke-width="0.35">&lt;</text>
<text x="219.3" y="339.9" font-size="12.2" font-weight="bold" fill="#E5261C" text-anchor="start" stroke="#E5261C" stroke-width="0.35">V</text>
<text x="228.0" y="343.2" font-size="8.4" font-weight="bold" fill="#E5261C" text-anchor="start" stroke="#E5261C" stroke-width="0.35">d</text>
<text x="346.2" y="268.9" font-size="12.2" font-weight="bold" fill="#2F6DB6" text-anchor="start" stroke="#2F6DB6" stroke-width="0.35">V</text>
<text x="354.7" y="272.2" font-size="8.4" font-weight="bold" fill="#2F6DB6" text-anchor="start" stroke="#2F6DB6" stroke-width="0.35">g</text>
<text x="363.0" y="268.9" font-size="12.2" font-weight="bold" fill="#2F6DB6" text-anchor="start" textLength="6.8" lengthAdjust="spacingAndGlyphs" stroke="#2F6DB6" stroke-width="0.35">&gt;</text>
<text x="373.3" y="268.9" font-size="12.2" font-weight="bold" fill="#2F6DB6" text-anchor="start" stroke="#2F6DB6" stroke-width="0.35">V</text>
<text x="381.8" y="272.2" font-size="8.4" font-weight="bold" fill="#2F6DB6" text-anchor="start" stroke="#2F6DB6" stroke-width="0.35">d</text>
<text x="473.9" y="343.0" font-size="12.2" font-weight="bold" fill="#E5261C" text-anchor="start" stroke="#E5261C" stroke-width="0.35">V</text>
<text x="482.4" y="346.3" font-size="8.4" font-weight="bold" fill="#E5261C" text-anchor="start" stroke="#E5261C" stroke-width="0.35">g</text>
<text x="491.2" y="343.0" font-size="12.2" font-weight="bold" fill="#E5261C" text-anchor="start" textLength="6.2" lengthAdjust="spacingAndGlyphs" stroke="#E5261C" stroke-width="0.35">&lt;</text>
<text x="500.8" y="343.0" font-size="12.2" font-weight="bold" fill="#E5261C" text-anchor="start" stroke="#E5261C" stroke-width="0.35">V</text>
<text x="509.8" y="346.3" font-size="8.4" font-weight="bold" fill="#E5261C" text-anchor="start" stroke="#E5261C" stroke-width="0.35">d</text>
<text x="91.6" y="368.3" font-size="12.2" font-weight="bold" fill="#000" text-anchor="start" textLength="116.1" lengthAdjust="spacingAndGlyphs" stroke="#000" stroke-width="0.3">Electrostatic impact</text>
<text x="390.8" y="368.3" font-size="12.2" font-weight="bold" fill="#000" text-anchor="start" textLength="89.1" lengthAdjust="spacingAndGlyphs" stroke="#000" stroke-width="0.3">Mobility impact</text>
</svg></body></html>
